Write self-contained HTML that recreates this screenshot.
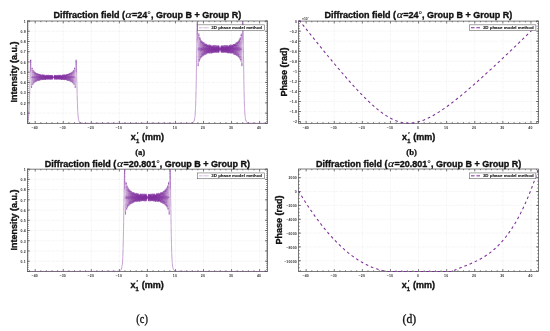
<!DOCTYPE html>
<html lang="en"><head><meta charset="utf-8"><title>Diffraction field figure</title>
<style>html,body{margin:0;padding:0;background:#fff}svg{display:block}</style></head>
<body>
<svg width="550" height="331" viewBox="0 0 550 331">
<rect width="550" height="331" fill="#fff"/>
<path d="M35.2 21V123.35M63.25 21V123.35M91.3 21V123.35M119.35 21V123.35M147.4 21V123.35M175.45 21V123.35M203.5 21V123.35M231.55 21V123.35M259.6 21V123.35M27.4 113.11H267.4M27.4 102.88H267.4M27.4 92.64H267.4M27.4 82.41H267.4M27.4 72.17H267.4M27.4 61.94H267.4M27.4 51.7H267.4M27.4 41.47H267.4M27.4 31.23H267.4" fill="none" stroke="#d6d6d6" stroke-width="0.45" stroke-dasharray="0.5 0.8"/>
<path d="M29.59 123.35v-1.2M29.59 21v1.2M35.2 123.35v-2.4M35.2 21v2.4M40.81 123.35v-1.2M40.81 21v1.2M46.42 123.35v-1.2M46.42 21v1.2M52.03 123.35v-1.2M52.03 21v1.2M57.64 123.35v-1.2M57.64 21v1.2M63.25 123.35v-2.4M63.25 21v2.4M68.86 123.35v-1.2M68.86 21v1.2M74.47 123.35v-1.2M74.47 21v1.2M80.08 123.35v-1.2M80.08 21v1.2M85.69 123.35v-1.2M85.69 21v1.2M91.3 123.35v-2.4M91.3 21v2.4M96.91 123.35v-1.2M96.91 21v1.2M102.52 123.35v-1.2M102.52 21v1.2M108.13 123.35v-1.2M108.13 21v1.2M113.74 123.35v-1.2M113.74 21v1.2M119.35 123.35v-2.4M119.35 21v2.4M124.96 123.35v-1.2M124.96 21v1.2M130.57 123.35v-1.2M130.57 21v1.2M136.18 123.35v-1.2M136.18 21v1.2M141.79 123.35v-1.2M141.79 21v1.2M147.4 123.35v-2.4M147.4 21v2.4M153.01 123.35v-1.2M153.01 21v1.2M158.62 123.35v-1.2M158.62 21v1.2M164.23 123.35v-1.2M164.23 21v1.2M169.84 123.35v-1.2M169.84 21v1.2M175.45 123.35v-2.4M175.45 21v2.4M181.06 123.35v-1.2M181.06 21v1.2M186.67 123.35v-1.2M186.67 21v1.2M192.28 123.35v-1.2M192.28 21v1.2M197.89 123.35v-1.2M197.89 21v1.2M203.5 123.35v-2.4M203.5 21v2.4M209.11 123.35v-1.2M209.11 21v1.2M214.72 123.35v-1.2M214.72 21v1.2M220.33 123.35v-1.2M220.33 21v1.2M225.94 123.35v-1.2M225.94 21v1.2M231.55 123.35v-2.4M231.55 21v2.4M237.16 123.35v-1.2M237.16 21v1.2M242.77 123.35v-1.2M242.77 21v1.2M248.38 123.35v-1.2M248.38 21v1.2M253.99 123.35v-1.2M253.99 21v1.2M259.6 123.35v-2.4M259.6 21v2.4M265.21 123.35v-1.2M265.21 21v1.2M27.4 123.35h1.2M267.4 123.35h-1.2M27.4 121.3h1.2M267.4 121.3h-1.2M27.4 119.26h1.2M267.4 119.26h-1.2M27.4 117.21h1.2M267.4 117.21h-1.2M27.4 115.16h1.2M267.4 115.16h-1.2M27.4 113.11h1.2M267.4 113.11h-1.2M27.4 111.07h1.2M267.4 111.07h-1.2M27.4 109.02h1.2M267.4 109.02h-1.2M27.4 106.97h1.2M267.4 106.97h-1.2M27.4 104.93h1.2M267.4 104.93h-1.2M27.4 102.88h1.2M267.4 102.88h-1.2M27.4 100.83h1.2M267.4 100.83h-1.2M27.4 98.79h1.2M267.4 98.79h-1.2M27.4 96.74h1.2M267.4 96.74h-1.2M27.4 94.69h1.2M267.4 94.69h-1.2M27.4 92.64h1.2M267.4 92.64h-1.2M27.4 90.6h1.2M267.4 90.6h-1.2M27.4 88.55h1.2M267.4 88.55h-1.2M27.4 86.5h1.2M267.4 86.5h-1.2M27.4 84.46h1.2M267.4 84.46h-1.2M27.4 82.41h1.2M267.4 82.41h-1.2M27.4 80.36h1.2M267.4 80.36h-1.2M27.4 78.32h1.2M267.4 78.32h-1.2M27.4 76.27h1.2M267.4 76.27h-1.2M27.4 74.22h1.2M267.4 74.22h-1.2M27.4 72.17h1.2M267.4 72.17h-1.2M27.4 70.13h1.2M267.4 70.13h-1.2M27.4 68.08h1.2M267.4 68.08h-1.2M27.4 66.03h1.2M267.4 66.03h-1.2M27.4 63.99h1.2M267.4 63.99h-1.2M27.4 61.94h1.2M267.4 61.94h-1.2M27.4 59.89h1.2M267.4 59.89h-1.2M27.4 57.85h1.2M267.4 57.85h-1.2M27.4 55.8h1.2M267.4 55.8h-1.2M27.4 53.75h1.2M267.4 53.75h-1.2M27.4 51.7h1.2M267.4 51.7h-1.2M27.4 49.66h1.2M267.4 49.66h-1.2M27.4 47.61h1.2M267.4 47.61h-1.2M27.4 45.56h1.2M267.4 45.56h-1.2M27.4 43.52h1.2M267.4 43.52h-1.2M27.4 41.47h1.2M267.4 41.47h-1.2M27.4 39.42h1.2M267.4 39.42h-1.2M27.4 37.38h1.2M267.4 37.38h-1.2M27.4 35.33h1.2M267.4 35.33h-1.2M27.4 33.28h1.2M267.4 33.28h-1.2M27.4 31.23h1.2M267.4 31.23h-1.2M27.4 29.19h1.2M267.4 29.19h-1.2M27.4 27.14h1.2M267.4 27.14h-1.2M27.4 25.09h1.2M267.4 25.09h-1.2M27.4 23.05h1.2M267.4 23.05h-1.2M27.4 21h1.2M267.4 21h-1.2M27.4 123.35h2.4M267.4 123.35h-2.4M27.4 113.11h2.4M267.4 113.11h-2.4M27.4 102.88h2.4M267.4 102.88h-2.4M27.4 92.64h2.4M267.4 92.64h-2.4M27.4 82.41h2.4M267.4 82.41h-2.4M27.4 72.17h2.4M267.4 72.17h-2.4M27.4 61.94h2.4M267.4 61.94h-2.4M27.4 51.7h2.4M267.4 51.7h-2.4M27.4 41.47h2.4M267.4 41.47h-2.4M27.4 31.23h2.4M267.4 31.23h-2.4M27.4 21h2.4M267.4 21h-2.4" fill="none" stroke="#444" stroke-width="0.7"/>
<rect x="27.4" y="21" width="240" height="102.35" fill="none" stroke="#505050" stroke-width="0.75"/>
<g font-family='"Liberation Sans", Arial, Helvetica, sans-serif' font-size="3.5" font-weight="bold" letter-spacing="0.18" fill="#333">
<g text-anchor="middle">
<text x="34.7" y="128.75">−40</text>
<text x="62.75" y="128.75">−30</text>
<text x="90.8" y="128.75">−20</text>
<text x="118.85" y="128.75">−10</text>
<text x="146.9" y="128.75">0</text>
<text x="174.95" y="128.75">10</text>
<text x="203" y="128.75">20</text>
<text x="231.05" y="128.75">30</text>
<text x="259.1" y="128.75">40</text>
</g><g text-anchor="end">
<text x="25.9" y="114.86">0.1</text>
<text x="25.9" y="104.63">0.2</text>
<text x="25.9" y="94.39">0.3</text>
<text x="25.9" y="84.16">0.4</text>
<text x="25.9" y="73.92">0.5</text>
<text x="25.9" y="63.69">0.6</text>
<text x="25.9" y="53.45">0.7</text>
<text x="25.9" y="43.22">0.8</text>
<text x="25.9" y="32.98">0.9</text>
<text x="25.9" y="22.75">1</text>
</g></g>
<path d="M82.15 123.14 191.3 123.01M248.8 123.01 267.4 123.34" fill="none" stroke="#8230A0" stroke-width="0.5" stroke-dasharray="0.7 0.9"/>
<path d="M27.4 122.01 27.6 121.51 27.8 121.07 28 120.65 28.2 119.6 28.4 118.48 28.6 117.21 28.8 114.71 29 111.87 29.2 108.35 29.4 102.58 29.6 96.42 29.8 88.92 30 79.27 30.2 71.59 30.4 64.04 30.6 59.97 30.65 60.92M76.15 60.92 76.35 62.19 76.55 69.3 76.75 77.92 76.95 85.93 77.15 94.92 77.35 101.38 77.55 106.61 77.75 111.36 77.95 114.13 78.15 116.4 78.35 118.4 78.55 119.37 78.75 120.25 78.95 121.11 79.15 121.42 79.35 121.77 79.55 122.2 79.75 122.29 79.95 122.43 80.15 122.68 80.35 122.71 80.55 122.76 80.75 122.92 80.95 122.93 81.15 122.93 81.35 123.05 81.55 123.06 81.75 123.04 81.95 123.13 82.15 123.14M191.3 123.01 191.5 123 191.7 122.85 191.9 122.88 192.1 122.87 192.3 122.68 192.5 122.67 192.7 122.66 192.9 122.39 193.1 122.31 193.3 122.27 193.5 121.87 193.7 121.65 193.9 121.49 194.1 120.81 194.3 120.25 194.5 119.75 194.7 118.36 194.9 116.93 195.1 115.38 195.3 112.15 195.5 108.5 195.7 104.04 195.9 96.38 196.1 87.96 196.3 77.54 196.5 63.07 196.7 50.16 196.9 36.28 197.1 24.81 197.3 22.77M242.8 22.77 243 24.81 243.2 36.28 243.4 50.16 243.6 63.07 243.8 77.54 244 87.96 244.2 96.38 244.4 104.04 244.6 108.5 244.8 112.15 245 115.38 245.2 116.93 245.4 118.36 245.6 119.75 245.8 120.25 246 120.81 246.2 121.5 246.4 121.65 246.6 121.87 246.8 122.27 247 122.31 247.2 122.39 247.4 122.66 247.6 122.67 247.8 122.68 248 122.87 248.2 122.88 248.4 122.85 248.6 123 248.8 123.01" fill="none" stroke="#8230A0" stroke-width="0.8" stroke-dasharray="0.5 0.4"/>
<path d="M30.65 60.92 30.69 59.63 30.73 61.33 30.76 60.41 30.81 62.58 30.84 62 30.89 64.65 30.91 64.33 30.97 67.45 30.99 67.32 31.05 70.84 31.06 70.8 31.13 74.57 31.13 74.57 31.21 78.36 31.21 78.36 31.29 81.88 31.29 81.86 31.36 84.83 31.38 84.67 31.43 86.94 31.46 86.46 31.51 87.96 31.55 86.96 31.58 87.77 31.63 86.03 31.66 86.37 31.72 83.78 31.73 83.86 31.8 80.53 31.81 80.53 31.88 76.78 31.89 76.79 31.96 73.11 31.97 73.18 32.03 70.04 32.05 70.37 32.11 68.04 32.14 68.9 32.18 67.45 32.23 69.12 32.25 68.43 32.31 71.03 32.33 70.81 32.39 74.27 32.41 74.25 32.55 81.65 32.57 81.57 32.63 84.16 32.66 83.66 32.71 85.08 32.75 83.67 32.78 84.18 32.84 81.55 32.85 81.62 33 74.17 33.02 74.23 33.08 71.13 33.11 71.61 33.15 69.72 33.19 71.12 33.23 70.33 33.28 73 33.3 72.85 33.37 76.57 33.38 76.57 33.45 80.37 33.47 80.32 33.53 83.06 33.56 82.47 33.6 83.73 33.65 81.87 33.67 82.13 33.75 78.79 33.75 78.79 33.83 74.87 33.84 74.92 33.9 71.82 33.93 72.41 33.97 70.82 34.02 72.71 34.05 72.29 34.11 75.7 34.12 75.69 34.2 79.62 34.21 79.59 34.27 82.42 34.31 81.75 34.35 82.84 34.41 80.54 34.42 80.66 34.5 76.86 34.5 76.86 34.57 73.23 34.6 73.55 34.65 71.54 34.69 73.18 34.72 72.68 34.79 76.1 34.79 76.1 34.87 80.02 34.89 79.93 34.95 82.33 34.99 81.17 35.02 81.74 35.09 78.54 35.09 78.54 35.17 74.57 35.19 74.69 35.25 72.17 35.29 73.49 35.32 72.83 35.39 76.17 35.39 76.17 35.47 80.1 35.49 79.96 35.54 82.07 35.59 80.46 35.62 80.76 35.77 73.42 35.8 73.96 35.84 72.5 35.9 75.07 35.92 74.97 35.99 79.03 36.01 79 36.07 81.66 36.11 80.37 36.14 80.81 36.29 73.52 36.32 74.16 36.37 72.93 36.43 75.89 36.44 75.87 36.51 79.89 36.54 79.71 36.59 81.55 36.65 79.29 36.66 79.37 36.74 75.27 36.76 75.37 36.81 72.95 36.87 74.83 36.89 74.58 36.96 78.65 36.97 78.62 37.04 81.29 37.09 79.69 37.11 79.92 37.19 75.87 37.2 75.91 37.26 73.19 37.31 74.93 37.34 74.64 37.41 78.74 37.43 78.7 37.49 81.18 37.54 79.21 37.56 79.33 37.63 75.18 37.66 75.35 37.71 73.31 37.77 75.9 37.79 75.85 37.86 79.92 37.89 79.56 37.93 80.81 38.08 73.84 38.13 74.94 38.16 74.34 38.23 78.37 38.24 78.36 38.31 80.92 38.37 78.7 38.38 78.76 38.46 74.63 38.49 75.11 38.53 73.91 38.68 80.73 38.73 78.98 38.75 79.11 38.83 74.91 38.86 75.3 38.91 73.96 39.05 80.68 39.11 78.64 39.13 78.71 39.21 74.58 39.24 75.26 39.28 74.41 39.35 78.48 39.37 78.44 39.43 80.61 39.58 74 39.63 75.78 39.65 75.61 39.73 79.79 39.77 79.14 39.8 79.8 39.88 75.61 39.9 75.8 39.95 74.14 40.03 77.85 40.03 77.85 40.1 80.49 40.25 74.08 40.31 76.23 40.33 76.16 40.4 80.12 40.45 78.72 40.47 78.89 40.55 74.68 40.59 75.65 40.62 75.17 40.7 79.46 40.73 78.91 40.77 79.58 40.85 75.29 40.88 75.73 40.92 74.74 41 78.99 41.03 78.73 41.07 79.81 41.15 75.59 41.17 75.88 41.22 74.66 41.3 78.89 41.32 78.65 41.37 79.76 41.45 75.49 41.48 75.87 41.52 74.86 41.59 79.17 41.63 78.71 41.67 79.42 41.75 75.07 41.79 75.88 41.82 75.39 41.89 79.69 41.95 78.48 41.97 78.65 42.04 74.55 42.1 76.48 42.12 76.43 42.19 80.11 42.34 74.38 42.42 78 42.43 77.98 42.49 79.85 42.57 75.64 42.6 76.05 42.64 75.22 42.71 79.58 42.77 78.26 42.79 78.36 42.87 74.48 43.01 79.96 43.09 75.93 43.12 76.2 43.17 75.2 43.24 79.58 43.3 78.04 43.31 78.09 43.39 74.5 43.46 77.94 43.48 77.92 43.54 79.59 43.61 75.19 43.66 76.36 43.69 76.19 43.76 79.96 43.84 76.56 43.85 76.61 43.91 75.03 43.99 79.46 44.05 77.89 44.06 77.92 44.13 74.6 44.21 78.55 44.24 78.26 44.29 78.92 44.36 74.7 44.43 77.62 44.44 77.62 44.51 79.49 44.58 75.05 44.65 76.9 44.66 76.89 44.73 79.75 44.81 75.44 44.86 76.53 44.88 76.4 44.96 79.83 45.03 75.72 45.07 76.43 45.11 76.15 45.18 79.84 45.26 75.83 45.3 76.45 45.33 76.12 45.41 79.82 45.48 75.76 45.53 76.51 45.55 76.28 45.63 79.77 45.71 75.52 45.76 76.72 45.78 76.66 45.85 79.63 45.93 75.18 46.08 79.3 46.15 74.86 46.23 78.07 46.25 77.95 46.3 78.65 46.38 74.76 46.45 78.95 46.52 77.61 46.53 77.62 46.6 75.13 46.67 79.61 46.75 76.33 46.79 76.62 46.83 76.14 46.9 79.64 46.97 75.19 47.05 77.69 47.06 77.67 47.12 78.72 47.2 74.83 47.27 79.19 47.35 76.96 47.36 76.98 47.42 75.78 47.5 79.67 47.57 75.26 47.65 77.8 47.67 77.75 47.72 78.45 47.8 74.97 47.87 79.5 47.95 76.15 47.99 76.83 48.02 76.74 48.09 79.15 48.17 74.85 48.25 79.12 48.32 76.72 48.35 76.84 48.39 76.28 48.47 79.35 48.54 74.89 48.62 79.02 48.69 76.74 48.72 76.87 48.77 76.37 48.84 79.23 48.92 74.89 48.99 79.27 49.07 76.23 49.13 77.04 49.14 77.02 49.21 78.68 49.29 75.08 49.37 79.6 49.44 75.39 49.51 78.21 49.58 77.45 49.59 77.45 49.67 76.01 49.74 79.29 49.81 74.92 49.89 79.42 49.96 75.7 50.04 77.93 50.09 77.55 50.11 77.58 50.19 76.03 50.26 79.18 50.34 74.98 50.41 79.55 50.49 75.29 50.56 78.64 50.63 76.63 50.69 77.11 50.71 77.09 50.79 78.2 50.86 75.69 50.93 79.3 51.01 74.99 51.08 79.56 51.16 75.14 51.23 79.04 51.31 75.96 51.38 78.03 51.46 77.07 51.49 77.13 51.53 76.89 51.61 78.16 51.68 75.92 51.76 78.98 51.83 75.27 51.91 79.44 51.98 74.99 52.05 79.56 52.13 75.01 52.21 79.41 52.28 75.26 52.35 79.09 52.43 75.64 52.5 78.68 52.58 76.05 52.65 78.27 52.73 76.45 52.8 77.9 52.88 76.79 52.95 77.6 53.03 77.05 53.1 77.38 53.17 77.23 53.22 77.28 53.25 77.25 53.31 77.32 53.33 77.31 53.34 77.31 53.4 77.2 53.46 77.31 53.47 77.31 53.49 77.32 53.55 77.25 53.58 77.28 53.63 77.23 53.7 77.38 53.77 77.05 53.85 77.6 53.92 76.79 54 77.9 54.07 76.45 54.15 78.27 54.22 76.05 54.3 78.68 54.37 75.64 54.45 79.09 54.52 75.26 54.59 79.41 54.67 75.01 54.75 79.56 54.82 74.99 54.89 79.44 54.97 75.27 55.04 78.97 55.12 75.92 55.19 78.15 55.27 76.89 55.31 77.13 55.34 77.07 55.42 78.03 55.49 75.96 55.57 79.04 55.64 75.14 55.72 79.56 55.79 74.99 55.87 79.3 55.94 75.69 56.01 78.2 56.09 77.09 56.11 77.11 56.17 76.63 56.24 78.64 56.31 75.29 56.39 79.55 56.46 74.98 56.54 79.18 56.61 76.03 56.69 77.58 56.71 77.55 56.76 77.93 56.84 75.7 56.91 79.42 56.99 74.92 57.06 79.29 57.13 76.01 57.21 77.45 57.22 77.45 57.29 78.21 57.36 75.39 57.43 79.6 57.51 75.08 57.59 78.68 57.66 77.02 57.67 77.04 57.73 76.23 57.81 79.27 57.88 74.89 57.96 79.23 58.03 76.37 58.08 76.87 58.11 76.74 58.18 79.02 58.26 74.89 58.33 79.35 58.41 76.28 58.45 76.84 58.48 76.72 58.55 79.12 58.63 74.85 58.71 79.15 58.78 76.74 58.81 76.83 58.85 76.15 58.93 79.5 59 74.97 59.08 78.45 59.13 77.75 59.15 77.8 59.23 75.26 59.3 79.67 59.38 75.78 59.44 76.98 59.45 76.96 59.53 79.19 59.6 74.83 59.68 78.72 59.74 77.67 59.75 77.69 59.83 75.19 59.9 79.64 59.97 76.14 60.01 76.62 60.05 76.33 60.13 79.61 60.2 75.13 60.27 77.62 60.28 77.61 60.35 78.95 60.42 74.76 60.5 78.65 60.55 77.95 60.57 78.07 60.65 74.86 60.72 79.3 60.87 75.18 60.95 79.63 61.02 76.66 61.04 76.72 61.09 75.52 61.17 79.77 61.25 76.28 61.27 76.51 61.32 75.76 61.39 79.82 61.47 76.12 61.5 76.45 61.54 75.83 61.62 79.84 61.69 76.15 61.73 76.43 61.77 75.72 61.84 79.83 61.92 76.4 61.94 76.53 61.99 75.44 62.07 79.75 62.14 76.89 62.15 76.9 62.22 75.05 62.29 79.49 62.36 77.62 62.37 77.62 62.44 74.7 62.51 78.92 62.56 78.26 62.59 78.55 62.67 74.59 62.74 77.92 62.75 77.89 62.81 79.46 62.89 75.03 62.95 76.61 62.96 76.56 63.04 79.96 63.11 76.19 63.14 76.36 63.19 75.19 63.26 79.59 63.32 77.92 63.34 77.94 63.41 74.5 63.49 78.09 63.5 78.04 63.56 79.58 63.63 75.2 63.68 76.2 63.71 75.93 63.79 79.96 63.93 74.48 64.01 78.36 64.03 78.26 64.09 79.58 64.16 75.22 64.2 76.05 64.23 75.64 64.31 79.85 64.37 77.98 64.38 78 64.46 74.38 64.61 80.11 64.68 76.43 64.7 76.48 64.76 74.55 64.83 78.65 64.85 78.48 64.91 79.69 64.98 75.39 65.01 75.88 65.05 75.07 65.13 79.42 65.17 78.71 65.21 79.17 65.28 74.86 65.32 75.87 65.35 75.49 65.43 79.76 65.48 78.65 65.5 78.89 65.58 74.66 65.63 75.88 65.65 75.59 65.73 79.81 65.77 78.73 65.8 78.99 65.88 74.74 65.92 75.73 65.95 75.29 66.03 79.58 66.07 78.91 66.1 79.46 66.18 75.17 66.21 75.65 66.25 74.68 66.33 78.89 66.35 78.72 66.4 80.12 66.47 76.16 66.49 76.23 66.55 74.08 66.7 80.49 66.77 77.85 66.77 77.85 66.85 74.13 66.9 75.8 66.92 75.61 67 79.8 67.03 79.14 67.07 79.79 67.15 75.61 67.17 75.78 67.22 74 67.37 80.61 67.43 78.43 67.45 78.48 67.52 74.41 67.56 75.26 67.59 74.58 67.67 78.71 67.69 78.64 67.75 80.68 67.89 73.96 67.94 75.3 67.97 74.91 68.05 79.11 68.07 78.98 68.12 80.73 68.27 73.91 68.31 75.11 68.34 74.63 68.42 78.76 68.43 78.7 68.49 80.92 68.56 78.36 68.57 78.37 68.64 74.34 68.67 74.94 68.72 73.84 68.87 80.81 68.91 79.56 68.94 79.92 69.01 75.85 69.03 75.9 69.09 73.31 69.14 75.35 69.17 75.18 69.24 79.33 69.26 79.21 69.31 81.18 69.37 78.7 69.39 78.74 69.46 74.64 69.49 74.93 69.54 73.19 69.6 75.91 69.61 75.87 69.69 79.92 69.71 79.69 69.76 81.29 69.83 78.62 69.84 78.65 69.91 74.58 69.93 74.83 69.99 72.95 70.04 75.37 70.06 75.27 70.14 79.37 70.15 79.29 70.21 81.55 70.26 79.71 70.29 79.89 70.36 75.87 70.37 75.89 70.43 72.93 70.48 74.16 70.51 73.52 70.66 80.81 70.69 80.37 70.73 81.66 70.8 79 70.81 79.03 70.88 74.97 70.9 75.07 70.96 72.5 71 73.96 71.03 73.42 71.18 80.76 71.21 80.46 71.26 82.07 71.31 79.96 71.33 80.1 71.41 76.16 71.41 76.17 71.48 72.83 71.51 73.49 71.55 72.17 71.61 74.69 71.63 74.57 71.71 78.54 71.71 78.54 71.78 81.74 71.81 81.17 71.85 82.33 71.91 79.93 71.93 80.02 72.01 76.1 72.01 76.1 72.08 72.68 72.11 73.18 72.15 71.54 72.2 73.55 72.23 73.23 72.3 76.86 72.3 76.86 72.38 80.66 72.39 80.54 72.45 82.84 72.49 81.75 72.53 82.42 72.59 79.59 72.6 79.62 72.68 75.69 72.69 75.7 72.75 72.29 72.78 72.71 72.83 70.82 72.87 72.41 72.9 71.82 72.96 74.92 72.97 74.87 73.05 78.79 73.05 78.79 73.13 82.13 73.15 81.87 73.2 83.73 73.24 82.47 73.27 83.05 73.33 80.32 73.35 80.37 73.42 76.57 73.43 76.57 73.5 72.85 73.52 73 73.57 70.33 73.61 71.12 73.65 69.72 73.69 71.61 73.72 71.13 73.78 74.23 73.8 74.17 73.95 81.62 73.96 81.55 74.02 84.18 74.05 83.67 74.09 85.08 74.14 83.66 74.17 84.16 74.23 81.57 74.25 81.65 74.39 74.25 74.41 74.27 74.47 70.81 74.49 71.03 74.55 68.42 74.57 69.12 74.62 67.45 74.66 68.9 74.69 68.04 74.75 70.37 74.77 70.04 74.83 73.18 74.84 73.11 74.91 76.79 74.92 76.78 74.99 80.53 75 80.53 75.07 83.86 75.08 83.78 75.14 86.37 75.17 86.03 75.22 87.77 75.25 86.96 75.29 87.96 75.34 86.46 75.37 86.94 75.42 84.67 75.44 84.83 75.51 81.85 75.51 81.88 75.59 78.36 75.59 78.36 75.67 74.57 75.67 74.57 75.74 70.8 75.75 70.84 75.81 67.32 75.83 67.45 75.89 64.33 75.91 64.65 75.96 62 75.99 62.58 76.04 60.41 76.07 61.33 76.11 59.63 76.15 60.92M197.3 22.77 197.38 23.43 197.41 21.95 197.46 25.44 197.49 24.51 197.54 28.77 197.56 28.26 197.62 33.29 197.64 33.08 197.7 38.75 197.71 38.69 197.78 44.77 197.78 44.76 197.86 50.87 197.86 50.87 197.94 56.54 197.94 56.5 198.01 61.3 198.03 61.04 198.08 64.68 198.11 63.92 198.16 66.33 198.2 64.72 198.23 66.03 198.28 63.22 198.31 63.77 198.37 59.6 198.38 59.73 198.45 54.36 198.46 54.37 198.53 48.33 198.54 48.33 198.61 42.41 198.62 42.53 198.68 37.47 198.7 37.99 198.76 34.23 198.79 35.63 198.83 33.29 198.88 35.98 198.9 34.86 198.96 39.06 198.98 38.71 199.04 44.27 199.06 44.24 199.2 56.17 199.22 56.04 199.28 60.22 199.31 59.4 199.36 61.69 199.4 59.42 199.43 60.24 199.49 56.01 199.5 56.12 199.65 44.12 199.67 44.22 199.73 39.23 199.76 39.99 199.8 36.94 199.84 39.21 199.88 37.93 199.93 42.24 199.95 41.99 200.02 47.98 200.03 47.98 200.1 54.1 200.12 54.02 200.18 58.43 200.21 57.49 200.25 59.51 200.3 56.52 200.32 56.94 200.4 51.55 200.4 51.56 200.48 45.24 200.49 45.32 200.55 40.34 200.58 41.28 200.62 38.72 200.67 41.77 200.7 41.09 200.76 46.58 200.77 46.56 200.85 52.9 200.86 52.84 200.92 57.41 200.96 56.33 201 58.08 201.06 54.38 201.07 54.57 201.15 48.44 201.15 48.45 201.22 42.6 201.25 43.11 201.3 39.88 201.34 42.52 201.37 41.71 201.44 47.23 201.44 47.22 201.52 53.54 201.54 53.39 201.6 57.27 201.64 55.39 201.67 56.31 201.74 51.16 201.74 51.16 201.82 44.76 201.84 44.96 201.9 40.9 201.94 43.02 201.97 41.95 202.04 47.35 202.04 47.33 202.12 53.66 202.14 53.44 202.19 56.85 202.24 54.25 202.27 54.74 202.42 42.91 202.45 43.77 202.49 41.43 202.55 45.56 202.57 45.41 202.64 51.95 202.66 51.9 202.72 56.18 202.76 54.1 202.79 54.81 202.94 43.07 202.97 44.1 203.02 42.12 203.08 46.89 203.09 46.85 203.16 53.33 203.19 53.03 203.24 56 203.3 52.36 203.31 52.49 203.39 45.88 203.41 46.05 203.46 42.15 203.52 45.18 203.54 44.78 203.61 51.33 203.62 51.29 203.69 55.6 203.74 53 203.76 53.39 203.84 46.86 203.85 46.93 203.91 42.54 203.96 45.34 203.99 44.87 204.06 51.48 204.08 51.42 204.14 55.42 204.19 52.24 204.21 52.43 204.28 45.74 204.31 46.01 204.36 42.73 204.42 46.9 204.44 46.82 204.51 53.37 204.54 52.8 204.58 54.82 204.73 43.59 204.78 45.35 204.81 44.39 204.88 50.89 204.89 50.86 204.96 54.99 205.02 51.42 205.03 51.51 205.11 44.86 205.14 45.64 205.18 43.7 205.33 54.68 205.38 51.86 205.4 52.08 205.48 45.31 205.51 45.93 205.56 43.78 205.7 54.61 205.76 51.32 205.78 51.43 205.86 44.78 205.89 45.88 205.93 44.5 206 51.06 206.02 50.99 206.08 54.48 206.23 43.84 206.28 46.7 206.3 46.44 206.38 53.17 206.42 52.13 206.45 53.19 206.53 46.44 206.55 46.73 206.6 44.06 206.68 50.05 206.68 50.04 206.75 54.3 206.9 43.97 206.96 47.43 206.98 47.33 207.05 53.7 207.1 51.45 207.12 51.73 207.2 44.94 207.24 46.49 207.27 45.73 207.35 52.65 207.38 51.75 207.42 52.84 207.5 45.93 207.53 46.62 207.57 45.03 207.65 51.89 207.68 51.46 207.72 53.2 207.8 46.4 207.82 46.87 207.87 44.91 207.95 51.72 207.97 51.34 208.02 53.12 208.1 46.25 208.13 46.86 208.17 45.22 208.24 52.17 208.28 51.43 208.32 52.57 208.4 45.57 208.44 46.87 208.47 46.08 208.54 53.01 208.6 51.07 208.62 51.34 208.69 44.72 208.75 47.84 208.77 47.76 208.84 53.69 208.99 44.45 209.07 50.29 209.08 50.25 209.14 53.27 209.22 46.48 209.25 47.14 209.29 45.81 209.36 52.83 209.42 50.7 209.44 50.87 209.52 44.62 209.66 53.45 209.74 46.95 209.77 47.39 209.82 45.77 209.89 52.83 209.95 50.35 209.96 50.43 210.04 44.64 210.11 50.2 210.13 50.16 210.19 52.85 210.26 45.76 210.31 47.64 210.34 47.37 210.41 53.45 210.49 47.96 210.5 48.05 210.56 45.5 210.64 52.63 210.7 50.11 210.71 50.15 210.78 44.8 210.86 51.17 210.89 50.71 210.94 51.76 211.01 44.96 211.08 49.68 211.09 49.67 211.16 52.69 211.23 45.54 211.3 48.51 211.31 48.49 211.38 53.11 211.46 46.16 211.51 47.92 211.53 47.71 211.61 53.24 211.68 46.61 211.72 47.76 211.76 47.31 211.83 53.25 211.91 46.79 211.95 47.78 211.98 47.25 212.06 53.22 212.13 46.68 212.18 47.89 212.2 47.52 212.28 53.14 212.36 46.3 212.41 48.23 212.43 48.13 212.5 52.92 212.58 45.75 212.73 52.38 212.8 45.24 212.88 50.4 212.9 50.2 212.95 51.33 213.03 45.07 213.1 51.81 213.17 49.66 213.18 49.67 213.25 45.67 213.32 52.87 213.4 47.6 213.44 48.07 213.48 47.29 213.55 52.93 213.62 45.75 213.7 49.79 213.71 49.76 213.77 51.44 213.85 45.18 213.92 52.2 214 48.61 214.01 48.64 214.07 46.71 214.15 52.97 214.22 45.87 214.3 49.96 214.32 49.88 214.37 51.01 214.45 45.41 214.52 52.7 214.6 47.3 214.64 48.41 214.67 48.25 214.74 52.15 214.82 45.22 214.9 52.09 214.97 48.22 215 48.42 215.04 47.52 215.12 52.46 215.19 45.28 215.27 51.93 215.34 48.26 215.37 48.47 215.42 47.67 215.49 52.26 215.57 45.27 215.64 52.33 215.72 47.44 215.78 48.74 215.79 48.7 215.86 51.39 215.94 45.58 216.02 52.86 216.09 46.08 216.16 50.63 216.23 49.39 216.24 49.4 216.32 47.07 216.39 52.36 216.46 45.33 216.54 52.58 216.61 46.59 216.69 50.18 216.74 49.56 216.76 49.61 216.84 47.12 216.91 52.19 216.99 45.43 217.06 52.78 217.14 45.93 217.21 51.33 217.28 48.08 217.34 48.86 217.36 48.82 217.44 50.61 217.51 46.56 217.58 52.38 217.66 45.43 217.73 52.79 217.81 45.68 217.88 51.96 217.96 46.99 218.03 50.34 218.11 48.79 218.14 48.88 218.18 48.5 218.26 50.54 218.33 46.93 218.41 51.86 218.48 45.89 218.56 52.61 218.63 45.43 218.7 52.8 218.78 45.47 218.86 52.55 218.93 45.88 219 52.04 219.08 46.48 219.15 51.38 219.23 47.15 219.3 50.72 219.38 47.79 219.45 50.12 219.53 48.33 219.6 49.64 219.68 48.76 219.75 49.28 219.82 49.04 219.87 49.12 219.9 49.07 219.96 49.18 219.98 49.18 219.99 49.18 220.05 49 220.11 49.18 220.12 49.18 220.14 49.18 220.2 49.07 220.23 49.12 220.28 49.04 220.35 49.28 220.42 48.76 220.5 49.64 220.57 48.33 220.65 50.12 220.72 47.79 220.8 50.72 220.87 47.15 220.95 51.38 221.02 46.48 221.1 52.04 221.17 45.88 221.24 52.55 221.32 45.47 221.4 52.8 221.47 45.43 221.54 52.61 221.62 45.89 221.69 51.86 221.77 46.93 221.84 50.54 221.92 48.5 221.96 48.88 221.99 48.79 222.07 50.34 222.14 46.99 222.22 51.96 222.29 45.68 222.37 52.79 222.44 45.43 222.52 52.38 222.59 46.56 222.66 50.61 222.74 48.82 222.76 48.86 222.82 48.08 222.89 51.33 222.96 45.93 223.04 52.78 223.11 45.43 223.19 52.19 223.26 47.12 223.34 49.61 223.36 49.56 223.41 50.18 223.49 46.59 223.56 52.58 223.64 45.33 223.71 52.36 223.78 47.07 223.86 49.4 223.87 49.39 223.94 50.63 224.01 46.08 224.08 52.86 224.16 45.58 224.24 51.39 224.31 48.7 224.32 48.74 224.38 47.44 224.46 52.33 224.53 45.27 224.61 52.26 224.68 47.67 224.73 48.47 224.76 48.26 224.83 51.93 224.91 45.28 224.98 52.46 225.06 47.52 225.1 48.42 225.13 48.22 225.2 52.09 225.28 45.22 225.36 52.15 225.43 48.25 225.46 48.41 225.5 47.3 225.58 52.7 225.65 45.41 225.73 51.01 225.78 49.88 225.8 49.96 225.88 45.87 225.95 52.97 226.03 46.71 226.09 48.64 226.1 48.61 226.18 52.2 226.25 45.18 226.33 51.44 226.39 49.76 226.4 49.79 226.48 45.75 226.55 52.93 226.62 47.29 226.66 48.07 226.7 47.6 226.78 52.87 226.85 45.67 226.92 49.67 226.93 49.66 227 51.81 227.07 45.07 227.15 51.33 227.2 50.2 227.22 50.4 227.3 45.24 227.37 52.38 227.52 45.75 227.6 52.92 227.67 48.13 227.69 48.23 227.74 46.3 227.82 53.14 227.9 47.52 227.92 47.89 227.97 46.68 228.04 53.22 228.12 47.25 228.15 47.78 228.19 46.79 228.27 53.25 228.34 47.31 228.38 47.76 228.42 46.61 228.49 53.24 228.57 47.71 228.59 47.92 228.64 46.16 228.72 53.11 228.79 48.49 228.8 48.51 228.87 45.54 228.94 52.69 229.01 49.67 229.02 49.68 229.09 44.96 229.16 51.76 229.21 50.71 229.24 51.17 229.32 44.8 229.39 50.15 229.4 50.11 229.46 52.63 229.54 45.5 229.6 48.05 229.61 47.96 229.69 53.45 229.76 47.37 229.79 47.64 229.84 45.76 229.91 52.85 229.97 50.16 229.99 50.2 230.06 44.64 230.14 50.43 230.15 50.35 230.21 52.83 230.28 45.77 230.33 47.39 230.36 46.95 230.44 53.45 230.58 44.62 230.66 50.87 230.68 50.7 230.74 52.83 230.81 45.81 230.85 47.14 230.88 46.48 230.96 53.27 231.02 50.25 231.03 50.29 231.11 44.45 231.26 53.69 231.33 47.76 231.35 47.84 231.41 44.72 231.48 51.34 231.5 51.07 231.56 53.01 231.63 46.08 231.66 46.87 231.7 45.57 231.78 52.57 231.82 51.43 231.86 52.17 231.93 45.22 231.97 46.86 232 46.25 232.08 53.12 232.13 51.34 232.15 51.72 232.23 44.91 232.28 46.87 232.3 46.4 232.38 53.2 232.42 51.46 232.45 51.89 232.53 45.03 232.57 46.62 232.6 45.93 232.68 52.84 232.72 51.75 232.75 52.65 232.83 45.73 232.86 46.49 232.9 44.94 232.98 51.73 233 51.45 233.05 53.7 233.12 47.33 233.14 47.43 233.2 43.97 233.35 54.3 233.42 50.04 233.42 50.05 233.5 44.06 233.55 46.73 233.57 46.44 233.65 53.19 233.68 52.13 233.72 53.17 233.8 46.44 233.82 46.7 233.87 43.84 234.02 54.49 234.08 50.99 234.1 51.06 234.17 44.5 234.21 45.88 234.24 44.78 234.32 51.43 234.34 51.32 234.4 54.61 234.54 43.78 234.59 45.93 234.62 45.31 234.7 52.08 234.72 51.86 234.77 54.68 234.92 43.7 234.96 45.64 234.99 44.86 235.07 51.51 235.08 51.42 235.14 54.99 235.21 50.86 235.22 50.89 235.29 44.39 235.32 45.35 235.37 43.59 235.52 54.82 235.56 52.8 235.59 53.37 235.66 46.82 235.68 46.9 235.74 42.73 235.79 46.01 235.82 45.74 235.89 52.43 235.91 52.24 235.96 55.42 236.02 51.42 236.04 51.48 236.11 44.87 236.14 45.34 236.19 42.54 236.25 46.93 236.26 46.86 236.34 53.39 236.36 53 236.41 55.6 236.48 51.29 236.49 51.33 236.56 44.78 236.58 45.18 236.64 42.15 236.69 46.05 236.71 45.88 236.79 52.49 236.8 52.36 236.86 56 236.91 53.03 236.94 53.33 237.01 46.85 237.02 46.89 237.08 42.12 237.13 44.1 237.16 43.07 237.31 54.82 237.34 54.1 237.38 56.18 237.44 51.9 237.46 51.95 237.53 45.41 237.55 45.56 237.61 41.43 237.65 43.77 237.68 42.91 237.83 54.74 237.86 54.25 237.91 56.85 237.96 53.44 237.98 53.66 238.06 47.33 238.06 47.35 238.13 41.95 238.16 43.02 238.2 40.9 238.26 44.96 238.28 44.76 238.36 51.16 238.36 51.16 238.43 56.31 238.46 55.39 238.5 57.27 238.56 53.39 238.58 53.54 238.66 47.22 238.66 47.23 238.73 41.71 238.76 42.52 238.8 39.88 238.85 43.11 238.88 42.6 238.95 48.45 238.95 48.44 239.03 54.57 239.04 54.38 239.1 58.08 239.14 56.33 239.18 57.41 239.24 52.84 239.25 52.9 239.33 46.56 239.34 46.58 239.4 41.09 239.43 41.77 239.48 38.72 239.52 41.28 239.55 40.34 239.61 45.32 239.62 45.24 239.7 51.56 239.7 51.55 239.78 56.94 239.8 56.52 239.85 59.51 239.89 57.49 239.92 58.43 239.98 54.02 240 54.1 240.07 47.98 240.08 47.98 240.15 41.99 240.17 42.24 240.22 37.93 240.26 39.21 240.3 36.94 240.34 39.99 240.37 39.23 240.43 44.22 240.45 44.12 240.6 56.13 240.61 56.01 240.67 60.24 240.7 59.42 240.74 61.69 240.79 59.4 240.82 60.22 240.88 56.04 240.9 56.18 241.04 44.24 241.06 44.27 241.12 38.71 241.14 39.06 241.2 34.86 241.22 35.98 241.27 33.29 241.31 35.63 241.34 34.23 241.4 37.99 241.42 37.47 241.48 42.53 241.49 42.41 241.56 48.33 241.57 48.33 241.64 54.37 241.65 54.36 241.72 59.73 241.73 59.6 241.79 63.77 241.82 63.22 241.87 66.03 241.9 64.72 241.94 66.33 241.99 63.92 242.02 64.68 242.07 61.04 242.09 61.3 242.16 56.5 242.16 56.54 242.24 50.87 242.24 50.87 242.32 44.76 242.32 44.77 242.39 38.69 242.4 38.75 242.46 33.08 242.48 33.29 242.54 28.26 242.56 28.77 242.61 24.51 242.64 25.44 242.69 21.95 242.72 23.43 242.8 22.7" fill="none" stroke="#8230A0" stroke-width="0.6" stroke-dasharray="0.4 0.5"/>
<path d="M31.25 77.15 31.55 77.82 31.85 76.8 32.15 78.12 32.45 76.07 32.75 78.22 33.05 76.41 33.35 77.75 33.65 76.64 33.95 78.18 34.25 76.23 34.55 78.48 34.85 76.53 35.15 77.74 35.45 76.62 35.75 78.58 36.05 76.69 36.35 78.13 36.65 75.98 36.95 77.7 37.25 76.31 37.55 78.62 37.85 76.68 38.15 78.23 38.45 76 38.75 77.81 39.05 76.38 39.35 78.43 39.65 76.24 39.95 78.14 40.25 76.7 40.55 78.17 40.85 76.54 41.15 78.15 41.45 76.54 41.75 78.51 42.05 76.14 42.35 77.99 42.65 76.34 42.95 77.95 43.25 76.46 43.55 78.03 43.85 76.25 44.15 78.05 44.45 76.45 44.75 78.39 45.05 76.49 45.35 78.58 45.65 76.73 45.95 78.42 46.25 76.49 46.55 78.1 46.85 76.27 47.15 78.2 47.45 76.49 47.75 77.68 48.05 76.81 48.35 78.39 48.65 76.38 48.95 78.38 49.25 75.94 49.55 78.39 49.85 76.83 50.15 78.05 50.45 76.18 50.75 78.03 51.05 75.63 51.35 78.95 51.65 75.77 51.95 78.33 52.25 75.89 52.55 77.84 52.85 76.65 53.15 77.95 53.45 76.48 53.75 78.01 54.05 76.78 54.35 78.09 54.65 76.46 54.95 78.13 55.25 76.61 55.55 78.29 55.85 76.28 56.15 78.65 56.45 75.96 56.75 78.27 57.05 76.41 57.35 78.48 57.65 76.01 57.95 78.36 58.25 76.11 58.55 78.61 58.85 76.87 59.15 78.55 59.45 76.63 59.75 78.15 60.05 76.11 60.35 78.39 60.65 76.76 60.95 78.33 61.25 76.84 61.55 78.03 61.85 76.1 62.15 78.1 62.45 76.31 62.75 78.4 63.05 76.09 63.35 78.44 63.65 76.9 63.95 78.1 64.25 76.44 64.55 77.73 64.85 76.37 65.15 78.28 65.45 76.08 65.75 78.62 66.05 76.78 66.35 77.91 66.65 76.25 66.95 77.81 67.25 76.68 67.55 78.25 67.85 76.74 68.15 78.46 68.45 76.05 68.75 77.71 69.05 76.38 69.35 78.47 69.65 75.94 69.95 77.95 70.25 76.74 70.55 78.55 70.85 76 71.15 77.88 71.45 76.47 71.75 78.39 72.05 76.06 72.35 77.85 72.65 76.24 72.95 78.48 73.25 76.36 73.55 77.84 73.85 76.87 74.15 77.96 74.45 76.28 74.75 77.59 75.05 77.08 75.35 77.59M197.9 48.92 198.2 49.99 198.5 48.35 198.8 50.48 199.1 47.17 199.4 50.63 199.7 47.72 200 49.89 200.3 48.09 200.6 50.57 200.9 47.43 201.2 51.06 201.5 47.91 201.8 49.88 202.1 48.06 202.4 51.23 202.7 48.18 203 50.49 203.3 47.03 203.6 49.81 203.9 47.56 204.2 51.29 204.5 48.15 204.8 50.65 205.1 47.07 205.4 49.98 205.7 47.68 206 50.97 206.3 47.45 206.6 50.52 206.9 48.19 207.2 50.56 207.5 47.93 207.8 50.53 208.1 47.94 208.4 51.11 208.7 47.29 209 50.27 209.3 47.61 209.6 50.21 209.9 47.8 210.2 50.34 210.5 47.47 210.8 50.36 211.1 47.79 211.4 50.92 211.7 47.86 212 51.22 212.3 48.23 212.6 50.96 212.9 47.85 213.2 50.45 213.5 47.51 213.8 50.61 214.1 47.86 214.4 49.77 214.7 48.37 215 50.91 215.3 47.68 215.6 50.9 215.9 46.96 216.2 50.92 216.5 48.4 216.8 50.37 217.1 47.35 217.4 50.34 217.7 46.47 218 51.82 218.3 46.69 218.6 50.81 218.9 46.88 219.2 50.03 219.5 48.11 219.8 50.21 220.1 47.83 220.4 50.3 220.7 48.32 221 50.43 221.3 47.81 221.6 50.49 221.9 48.04 222.2 50.75 222.5 47.51 222.8 51.34 223.1 47.01 223.4 50.73 223.7 47.72 224 51.06 224.3 47.08 224.6 50.86 224.9 47.24 225.2 51.28 225.5 48.46 225.8 51.17 226.1 48.08 226.4 50.53 226.7 47.25 227 50.92 227.3 48.29 227.6 50.83 227.9 48.41 228.2 50.34 228.5 47.22 228.8 50.46 229.1 47.56 229.4 50.94 229.7 47.21 230 50.99 230.3 48.51 230.6 50.44 230.9 47.78 231.2 49.86 231.5 47.66 231.8 50.74 232.1 47.2 232.4 51.28 232.7 48.32 233 50.14 233.3 47.47 233.6 49.98 233.9 48.16 234.2 50.69 234.5 48.25 234.8 51.02 235.1 47.15 235.4 49.82 235.7 47.67 236 51.05 236.3 46.96 236.6 50.21 236.9 48.25 237.2 51.17 237.5 47.07 237.8 50.09 238.1 47.82 238.4 50.92 238.7 47.17 239 50.04 239.3 47.46 239.6 51.06 239.9 47.64 240.2 50.03 240.5 48.47 240.8 50.22 241.1 47.52 241.4 49.63 241.7 48.8 242 49.63" fill="none" stroke="#8230A0" stroke-width="0.3" stroke-dasharray="0.5 0.3"/>
<path d="M30.65 60.25V71.77M76.15 60.25V71.77M197.3 21.69V40.24M242.8 21.69V40.24" fill="none" stroke="#8230A0" stroke-width="0.55" stroke-dasharray="0.6 0.4"/>
<rect x="197.7" y="24.85" width="66.6" height="5.8" fill="#fff" stroke="#4a4a4a" stroke-width="0.5"/>
<path d="M199.1 27.75H209.1" stroke="#8230A0" stroke-width="0.6" stroke-dasharray="0.6 0.6" fill="none"/>
<text x="211.3" y="29.3" font-family='"Liberation Sans", Arial, Helvetica, sans-serif' font-size="4.4" font-weight="bold" fill="#222" stroke="#222" stroke-width="0.12">3D phase model method</text>
<text x="53.4" y="18.4" font-family='"Liberation Sans", Arial, Helvetica, sans-serif' font-size="9" font-weight="bold" fill="#111" stroke="#111" stroke-width="0.35">Diffraction field (</text>
<text transform="translate(125.5 18.4) scale(1.25 1)" font-family='"Liberation Serif", "Times New Roman", serif' font-style="italic" font-size="9.4" fill="#111" stroke="#111" stroke-width="0.2">α</text>
<text x="132" y="18.4" font-family='"Liberation Sans", Arial, Helvetica, sans-serif' font-size="9" font-weight="bold" fill="#111" stroke="#111" stroke-width="0.35">=24<tspan font-weight="normal" font-size="9" stroke-width="0.1">°</tspan>, Group B + Group R)</text>
<text transform="translate(16.7 72) rotate(-90)" text-anchor="middle" font-family='"Liberation Sans", Arial, Helvetica, sans-serif' font-size="9" font-weight="bold" fill="#111" stroke="#111" stroke-width="0.35">Intensity (a.u.)</text>
<text x="130.8" y="140.4" font-family='"Liberation Sans", Arial, Helvetica, sans-serif' font-size="9" font-weight="bold" fill="#111" stroke="#111" stroke-width="0.35">x<tspan font-size="5.8" dx="0.1" dy="2.8">1</tspan><tspan font-size="7.5" dx="-2.4" dy="-6.0" stroke="none">′</tspan><tspan dx="1.0" dy="3.2"> (mm)</tspan></text>
<text x="140.2" y="154.5" text-anchor="middle" font-family='"Liberation Serif", "Times New Roman", serif' font-size="8.7" font-weight="bold" fill="#111" stroke="#111" stroke-width="0.25">(a)</text>
<path d="M306.15 21.1V123.35M334.25 21.1V123.35M362.35 21.1V123.35M390.45 21.1V123.35M418.55 21.1V123.35M446.65 21.1V123.35M474.75 21.1V123.35M502.85 21.1V123.35M530.95 21.1V123.35M298.6 31.15H538.45M298.6 41.2H538.45M298.6 51.25H538.45M298.6 61.3H538.45M298.6 71.35H538.45M298.6 81.39H538.45M298.6 91.44H538.45M298.6 101.49H538.45M298.6 111.54H538.45M298.6 121.59H538.45" fill="none" stroke="#d6d6d6" stroke-width="0.45" stroke-dasharray="0.5 0.8"/>
<path d="M300.53 123.35v-1.2M300.53 21.1v1.2M306.15 123.35v-2.4M306.15 21.1v2.4M311.77 123.35v-1.2M311.77 21.1v1.2M317.39 123.35v-1.2M317.39 21.1v1.2M323.01 123.35v-1.2M323.01 21.1v1.2M328.63 123.35v-1.2M328.63 21.1v1.2M334.25 123.35v-2.4M334.25 21.1v2.4M339.87 123.35v-1.2M339.87 21.1v1.2M345.49 123.35v-1.2M345.49 21.1v1.2M351.11 123.35v-1.2M351.11 21.1v1.2M356.73 123.35v-1.2M356.73 21.1v1.2M362.35 123.35v-2.4M362.35 21.1v2.4M367.97 123.35v-1.2M367.97 21.1v1.2M373.59 123.35v-1.2M373.59 21.1v1.2M379.21 123.35v-1.2M379.21 21.1v1.2M384.83 123.35v-1.2M384.83 21.1v1.2M390.45 123.35v-2.4M390.45 21.1v2.4M396.07 123.35v-1.2M396.07 21.1v1.2M401.69 123.35v-1.2M401.69 21.1v1.2M407.31 123.35v-1.2M407.31 21.1v1.2M412.93 123.35v-1.2M412.93 21.1v1.2M418.55 123.35v-2.4M418.55 21.1v2.4M424.17 123.35v-1.2M424.17 21.1v1.2M429.79 123.35v-1.2M429.79 21.1v1.2M435.41 123.35v-1.2M435.41 21.1v1.2M441.03 123.35v-1.2M441.03 21.1v1.2M446.65 123.35v-2.4M446.65 21.1v2.4M452.27 123.35v-1.2M452.27 21.1v1.2M457.89 123.35v-1.2M457.89 21.1v1.2M463.51 123.35v-1.2M463.51 21.1v1.2M469.13 123.35v-1.2M469.13 21.1v1.2M474.75 123.35v-2.4M474.75 21.1v2.4M480.37 123.35v-1.2M480.37 21.1v1.2M485.99 123.35v-1.2M485.99 21.1v1.2M491.61 123.35v-1.2M491.61 21.1v1.2M497.23 123.35v-1.2M497.23 21.1v1.2M502.85 123.35v-2.4M502.85 21.1v2.4M508.47 123.35v-1.2M508.47 21.1v1.2M514.09 123.35v-1.2M514.09 21.1v1.2M519.71 123.35v-1.2M519.71 21.1v1.2M525.33 123.35v-1.2M525.33 21.1v1.2M530.95 123.35v-2.4M530.95 21.1v2.4M536.57 123.35v-1.2M536.57 21.1v1.2M298.6 21.1h1.2M538.45 21.1h-1.2M298.6 23.61h1.2M538.45 23.61h-1.2M298.6 26.12h1.2M538.45 26.12h-1.2M298.6 28.64h1.2M538.45 28.64h-1.2M298.6 31.15h1.2M538.45 31.15h-1.2M298.6 33.66h1.2M538.45 33.66h-1.2M298.6 36.17h1.2M538.45 36.17h-1.2M298.6 38.69h1.2M538.45 38.69h-1.2M298.6 41.2h1.2M538.45 41.2h-1.2M298.6 43.71h1.2M538.45 43.71h-1.2M298.6 46.22h1.2M538.45 46.22h-1.2M298.6 48.74h1.2M538.45 48.74h-1.2M298.6 51.25h1.2M538.45 51.25h-1.2M298.6 53.76h1.2M538.45 53.76h-1.2M298.6 56.27h1.2M538.45 56.27h-1.2M298.6 58.78h1.2M538.45 58.78h-1.2M298.6 61.3h1.2M538.45 61.3h-1.2M298.6 63.81h1.2M538.45 63.81h-1.2M298.6 66.32h1.2M538.45 66.32h-1.2M298.6 68.83h1.2M538.45 68.83h-1.2M298.6 71.35h1.2M538.45 71.35h-1.2M298.6 73.86h1.2M538.45 73.86h-1.2M298.6 76.37h1.2M538.45 76.37h-1.2M298.6 78.88h1.2M538.45 78.88h-1.2M298.6 81.39h1.2M538.45 81.39h-1.2M298.6 83.91h1.2M538.45 83.91h-1.2M298.6 86.42h1.2M538.45 86.42h-1.2M298.6 88.93h1.2M538.45 88.93h-1.2M298.6 91.44h1.2M538.45 91.44h-1.2M298.6 93.96h1.2M538.45 93.96h-1.2M298.6 96.47h1.2M538.45 96.47h-1.2M298.6 98.98h1.2M538.45 98.98h-1.2M298.6 101.49h1.2M538.45 101.49h-1.2M298.6 104.01h1.2M538.45 104.01h-1.2M298.6 106.52h1.2M538.45 106.52h-1.2M298.6 109.03h1.2M538.45 109.03h-1.2M298.6 111.54h1.2M538.45 111.54h-1.2M298.6 114.05h1.2M538.45 114.05h-1.2M298.6 116.57h1.2M538.45 116.57h-1.2M298.6 119.08h1.2M538.45 119.08h-1.2M298.6 121.59h1.2M538.45 121.59h-1.2M298.6 21.1h2.4M538.45 21.1h-2.4M298.6 31.15h2.4M538.45 31.15h-2.4M298.6 41.2h2.4M538.45 41.2h-2.4M298.6 51.25h2.4M538.45 51.25h-2.4M298.6 61.3h2.4M538.45 61.3h-2.4M298.6 71.35h2.4M538.45 71.35h-2.4M298.6 81.39h2.4M538.45 81.39h-2.4M298.6 91.44h2.4M538.45 91.44h-2.4M298.6 101.49h2.4M538.45 101.49h-2.4M298.6 111.54h2.4M538.45 111.54h-2.4M298.6 121.59h2.4M538.45 121.59h-2.4" fill="none" stroke="#444" stroke-width="0.7"/>
<rect x="298.6" y="21.1" width="239.85" height="102.25" fill="none" stroke="#505050" stroke-width="0.75"/>
<g font-family='"Liberation Sans", Arial, Helvetica, sans-serif' font-size="3.5" font-weight="bold" letter-spacing="0.18" fill="#333">
<g text-anchor="middle">
<text x="305.65" y="128.75">−40</text>
<text x="333.75" y="128.75">−30</text>
<text x="361.85" y="128.75">−20</text>
<text x="389.95" y="128.75">−10</text>
<text x="418.05" y="128.75">0</text>
<text x="446.15" y="128.75">10</text>
<text x="474.25" y="128.75">20</text>
<text x="502.35" y="128.75">30</text>
<text x="530.45" y="128.75">40</text>
</g><g text-anchor="end">
<text x="297.1" y="22.85">0</text>
<text x="297.1" y="32.9">−0.2</text>
<text x="297.1" y="42.95">−0.4</text>
<text x="297.1" y="53">−0.6</text>
<text x="297.1" y="63.05">−0.8</text>
<text x="297.1" y="73.1">−1</text>
<text x="297.1" y="83.14">−1.2</text>
<text x="297.1" y="93.19">−1.4</text>
<text x="297.1" y="103.24">−1.6</text>
<text x="297.1" y="113.29">−1.8</text>
<text x="297.1" y="123.34">−2</text>
</g></g>
<path d="M298.6 21.1 299.81 21.1 301.01 22.5 302.22 24.03 303.42 25.55 304.63 27.08 305.83 28.6 307.04 30.12 308.24 31.64 309.45 33.15 310.65 34.66 311.86 36.17 313.06 37.68 314.27 39.19 315.47 40.69 316.68 42.19 317.88 43.68 319.09 45.18 320.29 46.67 321.5 48.15 322.71 49.63 323.91 51.11 325.12 52.59 326.32 54.06 327.53 55.53 328.73 56.99 329.94 58.45 331.14 59.91 332.35 61.36 333.55 62.8 334.76 64.24 335.96 65.68 337.17 67.1 338.37 68.53 339.58 69.95 340.78 71.36 341.99 72.76 343.2 74.16 344.4 75.55 345.61 76.94 346.81 78.31 348.02 79.68 349.22 81.04 350.43 82.39 351.63 83.73 352.84 85.07 354.04 86.39 355.25 87.7 356.45 89 357.66 90.29 358.86 91.57 360.07 92.84 361.27 94.09 362.48 95.33 363.68 96.55 364.89 97.76 366.1 98.95 367.3 100.13 368.51 101.29 369.71 102.43 370.92 103.55 372.12 104.65 373.33 105.73 374.53 106.79 375.74 107.83 376.94 108.84 378.15 109.82 379.35 110.78 380.56 111.72 381.76 112.62 382.97 113.5 384.17 114.34 385.38 115.15 386.59 115.93 387.79 116.68 389 117.38 390.2 118.06 391.41 118.69 392.61 119.29 393.82 119.84 395.02 120.36 396.23 120.83 397.43 121.26 398.64 121.65 399.84 121.99 401.05 122.29 402.25 122.55 403.46 122.76 404.66 122.93 405.87 123.05 407.07 123.13 408.28 123.16 409.49 123.16 410.69 123.1 411.9 123.01 413.1 122.87 414.31 122.7 415.51 122.48 416.72 122.23 417.92 121.94 419.13 121.61 420.33 121.24 421.54 120.85 422.74 120.41 423.95 119.95 425.15 119.46 426.36 118.94 427.56 118.39 428.77 117.81 429.98 117.2 431.18 116.58 432.39 115.92 433.59 115.25 434.8 114.55 436 113.83 437.21 113.1 438.41 112.34 439.62 111.57 440.82 110.78 442.03 109.97 443.23 109.14 444.44 108.31 445.64 107.45 446.85 106.59 448.05 105.71 449.26 104.82 450.46 103.91 451.67 103 452.88 102.07 454.08 101.14 455.29 100.19 456.49 99.23 457.7 98.27 458.9 97.3 460.11 96.32 461.31 95.33 462.52 94.33 463.72 93.33 464.93 92.31 466.13 91.3 467.34 90.27 468.54 89.24 469.75 88.21 470.95 87.16 472.16 86.12 473.37 85.06 474.57 84.01 475.78 82.94 476.98 81.88 478.19 80.81 479.39 79.73 480.6 78.65 481.8 77.57 483.01 76.48 484.21 75.39 485.42 74.29 486.62 73.2 487.83 72.09 489.03 70.99 490.24 69.88 491.44 68.77 492.65 67.66 493.85 66.54 495.06 65.42 496.27 64.3 497.47 63.18 498.68 62.05 499.88 60.92 501.09 59.79 502.29 58.65 503.5 57.52 504.7 56.38 505.91 55.24 507.11 54.1 508.32 52.96 509.52 51.81 510.73 50.66 511.93 49.51 513.14 48.36 514.34 47.21 515.55 46.06 516.76 44.9 517.96 43.75 519.17 42.59 520.37 41.43 521.58 40.27 522.78 39.1 523.99 37.94 525.19 36.78 526.4 35.61 527.6 34.44 528.81 33.27 530.01 32.1 531.22 30.93 532.42 29.76 533.63 28.59 534.83 27.42 536.04 26.24 537.24 25.06 538.45 23.89" fill="none" stroke="#7A2E96" stroke-width="1.05" stroke-dasharray="2.7 2.9" />
<text x="302" y="19.6" font-family='"Liberation Sans", Arial, Helvetica, sans-serif' font-size="3.3" font-weight="bold" fill="#333">×10<tspan font-size="2.3" dy="-1.2">4</tspan></text>
<rect x="469.6" y="24.85" width="66.3" height="5.8" fill="#fff" stroke="#4a4a4a" stroke-width="0.5"/>
<path d="M471 27.75H481" stroke="#7A2E96" stroke-width="1.0" stroke-dasharray="3.6 1.8" fill="none"/>
<text x="482.9" y="29.3" font-family='"Liberation Sans", Arial, Helvetica, sans-serif' font-size="4.4" font-weight="bold" fill="#222" stroke="#222" stroke-width="0.12">3D phase model method</text>
<text x="324.6" y="18.4" font-family='"Liberation Sans", Arial, Helvetica, sans-serif' font-size="9" font-weight="bold" fill="#111" stroke="#111" stroke-width="0.35">Diffraction field (</text>
<text transform="translate(396.7 18.4) scale(1.25 1)" font-family='"Liberation Serif", "Times New Roman", serif' font-style="italic" font-size="9.4" fill="#111" stroke="#111" stroke-width="0.2">α</text>
<text x="403.2" y="18.4" font-family='"Liberation Sans", Arial, Helvetica, sans-serif' font-size="9" font-weight="bold" fill="#111" stroke="#111" stroke-width="0.35">=24<tspan font-weight="normal" font-size="9" stroke-width="0.1">°</tspan>, Group B + Group R)</text>
<text transform="translate(286.5 72) rotate(-90)" text-anchor="middle" font-family='"Liberation Sans", Arial, Helvetica, sans-serif' font-size="9" font-weight="bold" fill="#111" stroke="#111" stroke-width="0.35">Phase (rad)</text>
<text x="402.1" y="140.4" font-family='"Liberation Sans", Arial, Helvetica, sans-serif' font-size="9" font-weight="bold" fill="#111" stroke="#111" stroke-width="0.35">x<tspan font-size="5.8" dx="0.1" dy="2.8">1</tspan><tspan font-size="7.5" dx="-2.4" dy="-6.0" stroke="none">′</tspan><tspan dx="1.0" dy="3.2"> (mm)</tspan></text>
<text x="411.6" y="154.5" text-anchor="middle" font-family='"Liberation Serif", "Times New Roman", serif' font-size="8.7" font-weight="bold" fill="#111" stroke="#111" stroke-width="0.25">(b)</text>
<path d="M35.2 169.15V271.45M63.25 169.15V271.45M91.3 169.15V271.45M119.35 169.15V271.45M147.4 169.15V271.45M175.45 169.15V271.45M203.5 169.15V271.45M231.55 169.15V271.45M259.6 169.15V271.45M27.4 261.22H267.4M27.4 250.99H267.4M27.4 240.76H267.4M27.4 230.53H267.4M27.4 220.3H267.4M27.4 210.07H267.4M27.4 199.84H267.4M27.4 189.61H267.4M27.4 179.38H267.4" fill="none" stroke="#d6d6d6" stroke-width="0.45" stroke-dasharray="0.5 0.8"/>
<path d="M29.59 271.45v-1.2M29.59 169.15v1.2M35.2 271.45v-2.4M35.2 169.15v2.4M40.81 271.45v-1.2M40.81 169.15v1.2M46.42 271.45v-1.2M46.42 169.15v1.2M52.03 271.45v-1.2M52.03 169.15v1.2M57.64 271.45v-1.2M57.64 169.15v1.2M63.25 271.45v-2.4M63.25 169.15v2.4M68.86 271.45v-1.2M68.86 169.15v1.2M74.47 271.45v-1.2M74.47 169.15v1.2M80.08 271.45v-1.2M80.08 169.15v1.2M85.69 271.45v-1.2M85.69 169.15v1.2M91.3 271.45v-2.4M91.3 169.15v2.4M96.91 271.45v-1.2M96.91 169.15v1.2M102.52 271.45v-1.2M102.52 169.15v1.2M108.13 271.45v-1.2M108.13 169.15v1.2M113.74 271.45v-1.2M113.74 169.15v1.2M119.35 271.45v-2.4M119.35 169.15v2.4M124.96 271.45v-1.2M124.96 169.15v1.2M130.57 271.45v-1.2M130.57 169.15v1.2M136.18 271.45v-1.2M136.18 169.15v1.2M141.79 271.45v-1.2M141.79 169.15v1.2M147.4 271.45v-2.4M147.4 169.15v2.4M153.01 271.45v-1.2M153.01 169.15v1.2M158.62 271.45v-1.2M158.62 169.15v1.2M164.23 271.45v-1.2M164.23 169.15v1.2M169.84 271.45v-1.2M169.84 169.15v1.2M175.45 271.45v-2.4M175.45 169.15v2.4M181.06 271.45v-1.2M181.06 169.15v1.2M186.67 271.45v-1.2M186.67 169.15v1.2M192.28 271.45v-1.2M192.28 169.15v1.2M197.89 271.45v-1.2M197.89 169.15v1.2M203.5 271.45v-2.4M203.5 169.15v2.4M209.11 271.45v-1.2M209.11 169.15v1.2M214.72 271.45v-1.2M214.72 169.15v1.2M220.33 271.45v-1.2M220.33 169.15v1.2M225.94 271.45v-1.2M225.94 169.15v1.2M231.55 271.45v-2.4M231.55 169.15v2.4M237.16 271.45v-1.2M237.16 169.15v1.2M242.77 271.45v-1.2M242.77 169.15v1.2M248.38 271.45v-1.2M248.38 169.15v1.2M253.99 271.45v-1.2M253.99 169.15v1.2M259.6 271.45v-2.4M259.6 169.15v2.4M265.21 271.45v-1.2M265.21 169.15v1.2M27.4 271.45h1.2M267.4 271.45h-1.2M27.4 269.4h1.2M267.4 269.4h-1.2M27.4 267.36h1.2M267.4 267.36h-1.2M27.4 265.31h1.2M267.4 265.31h-1.2M27.4 263.27h1.2M267.4 263.27h-1.2M27.4 261.22h1.2M267.4 261.22h-1.2M27.4 259.17h1.2M267.4 259.17h-1.2M27.4 257.13h1.2M267.4 257.13h-1.2M27.4 255.08h1.2M267.4 255.08h-1.2M27.4 253.04h1.2M267.4 253.04h-1.2M27.4 250.99h1.2M267.4 250.99h-1.2M27.4 248.94h1.2M267.4 248.94h-1.2M27.4 246.9h1.2M267.4 246.9h-1.2M27.4 244.85h1.2M267.4 244.85h-1.2M27.4 242.81h1.2M267.4 242.81h-1.2M27.4 240.76h1.2M267.4 240.76h-1.2M27.4 238.71h1.2M267.4 238.71h-1.2M27.4 236.67h1.2M267.4 236.67h-1.2M27.4 234.62h1.2M267.4 234.62h-1.2M27.4 232.58h1.2M267.4 232.58h-1.2M27.4 230.53h1.2M267.4 230.53h-1.2M27.4 228.48h1.2M267.4 228.48h-1.2M27.4 226.44h1.2M267.4 226.44h-1.2M27.4 224.39h1.2M267.4 224.39h-1.2M27.4 222.35h1.2M267.4 222.35h-1.2M27.4 220.3h1.2M267.4 220.3h-1.2M27.4 218.25h1.2M267.4 218.25h-1.2M27.4 216.21h1.2M267.4 216.21h-1.2M27.4 214.16h1.2M267.4 214.16h-1.2M27.4 212.12h1.2M267.4 212.12h-1.2M27.4 210.07h1.2M267.4 210.07h-1.2M27.4 208.02h1.2M267.4 208.02h-1.2M27.4 205.98h1.2M267.4 205.98h-1.2M27.4 203.93h1.2M267.4 203.93h-1.2M27.4 201.89h1.2M267.4 201.89h-1.2M27.4 199.84h1.2M267.4 199.84h-1.2M27.4 197.79h1.2M267.4 197.79h-1.2M27.4 195.75h1.2M267.4 195.75h-1.2M27.4 193.7h1.2M267.4 193.7h-1.2M27.4 191.66h1.2M267.4 191.66h-1.2M27.4 189.61h1.2M267.4 189.61h-1.2M27.4 187.56h1.2M267.4 187.56h-1.2M27.4 185.52h1.2M267.4 185.52h-1.2M27.4 183.47h1.2M267.4 183.47h-1.2M27.4 181.43h1.2M267.4 181.43h-1.2M27.4 179.38h1.2M267.4 179.38h-1.2M27.4 177.33h1.2M267.4 177.33h-1.2M27.4 175.29h1.2M267.4 175.29h-1.2M27.4 173.24h1.2M267.4 173.24h-1.2M27.4 171.2h1.2M267.4 171.2h-1.2M27.4 169.15h1.2M267.4 169.15h-1.2M27.4 271.45h2.4M267.4 271.45h-2.4M27.4 261.22h2.4M267.4 261.22h-2.4M27.4 250.99h2.4M267.4 250.99h-2.4M27.4 240.76h2.4M267.4 240.76h-2.4M27.4 230.53h2.4M267.4 230.53h-2.4M27.4 220.3h2.4M267.4 220.3h-2.4M27.4 210.07h2.4M267.4 210.07h-2.4M27.4 199.84h2.4M267.4 199.84h-2.4M27.4 189.61h2.4M267.4 189.61h-2.4M27.4 179.38h2.4M267.4 179.38h-2.4M27.4 169.15h2.4M267.4 169.15h-2.4" fill="none" stroke="#444" stroke-width="0.7"/>
<rect x="27.4" y="169.15" width="240" height="102.3" fill="none" stroke="#505050" stroke-width="0.75"/>
<g font-family='"Liberation Sans", Arial, Helvetica, sans-serif' font-size="3.5" font-weight="bold" letter-spacing="0.18" fill="#333">
<g text-anchor="middle">
<text x="34.7" y="276.85">−40</text>
<text x="62.75" y="276.85">−30</text>
<text x="90.8" y="276.85">−20</text>
<text x="118.85" y="276.85">−10</text>
<text x="146.9" y="276.85">0</text>
<text x="174.95" y="276.85">10</text>
<text x="203" y="276.85">20</text>
<text x="231.05" y="276.85">30</text>
<text x="259.1" y="276.85">40</text>
</g><g text-anchor="end">
<text x="25.9" y="262.97">0.1</text>
<text x="25.9" y="252.74">0.2</text>
<text x="25.9" y="242.51">0.3</text>
<text x="25.9" y="232.28">0.4</text>
<text x="25.9" y="222.05">0.5</text>
<text x="25.9" y="211.82">0.6</text>
<text x="25.9" y="201.59">0.7</text>
<text x="25.9" y="191.36">0.8</text>
<text x="25.9" y="181.13">0.9</text>
<text x="25.9" y="170.9">1</text>
</g></g>
<path d="M27.4 271.45 118.6 271.11M176.1 271.11 267.4 271.45" fill="none" stroke="#8230A0" stroke-width="0.5" stroke-dasharray="0.7 0.9"/>
<path d="M118.6 271.11 118.8 271.1 119 270.95 119.2 270.98 119.4 270.97 119.6 270.78 119.8 270.77 120 270.76 120.2 270.5 120.4 270.42 120.6 270.38 120.8 269.98 121 269.76 121.2 269.6 121.4 268.92 121.6 268.36 121.8 267.86 122 266.48 122.2 265.06 122.4 263.52 122.6 260.31 122.8 256.67 123 252.23 123.2 244.61 123.4 236.22 123.6 225.85 123.8 211.44 124 198.6 124.2 184.78 124.4 173.37 124.6 171.34M170.1 171.34 170.3 173.37 170.5 184.78 170.7 198.6 170.9 211.44 171.1 225.85 171.3 236.22 171.5 244.61 171.7 252.23 171.9 256.67 172.1 260.31 172.3 263.52 172.5 265.06 172.7 266.48 172.9 267.86 173.1 268.36 173.3 268.92 173.5 269.6 173.7 269.76 173.9 269.98 174.1 270.38 174.3 270.42 174.5 270.5 174.7 270.76 174.9 270.77 175.1 270.78 175.3 270.97 175.5 270.98 175.7 270.95 175.9 271.1 176.1 271.11" fill="none" stroke="#8230A0" stroke-width="0.8" stroke-dasharray="0.5 0.4"/>
<path d="M124.6 171.34 124.64 169.26 124.68 171.99 124.71 170.52 124.76 173.99 124.79 173.07 124.84 177.31 124.86 176.8 124.92 181.81 124.94 181.59 125 187.24 125.01 187.19 125.08 193.23 125.08 193.23 125.16 199.31 125.16 199.31 125.24 204.95 125.24 204.91 125.31 209.68 125.33 209.43 125.38 213.05 125.41 212.3 125.46 214.69 125.5 213.09 125.53 214.4 125.58 211.6 125.61 212.14 125.67 207.99 125.68 208.12 125.75 202.78 125.76 202.79 125.83 196.78 125.84 196.78 125.91 190.89 125.92 191 125.98 185.96 126 186.49 126.06 182.75 126.09 184.13 126.13 181.81 126.18 184.49 126.2 183.37 126.26 187.55 126.28 187.2 126.34 192.74 126.36 192.71 126.5 204.59 126.52 204.45 126.58 208.61 126.61 207.8 126.66 210.07 126.7 207.82 126.73 208.63 126.79 204.42 126.8 204.54 126.95 192.59 126.97 192.68 127.03 187.72 127.06 188.48 127.1 185.44 127.14 187.7 127.18 186.43 127.23 190.71 127.25 190.47 127.32 196.43 127.33 196.43 127.4 202.52 127.42 202.44 127.48 206.83 127.51 205.89 127.55 207.91 127.6 204.93 127.62 205.35 127.7 199.99 127.7 199.99 127.78 193.71 127.79 193.78 127.85 188.82 127.88 189.76 127.92 187.21 127.97 190.24 128 189.58 128.06 195.04 128.07 195.02 128.15 201.33 128.16 201.27 128.22 205.82 128.26 204.74 128.3 206.48 128.36 202.8 128.37 202.99 128.45 196.89 128.45 196.89 128.52 191.07 128.55 191.58 128.6 188.36 128.64 190.99 128.67 190.19 128.74 195.68 128.74 195.67 128.82 201.96 128.84 201.82 128.9 205.67 128.94 203.8 128.97 204.72 129.04 199.59 129.04 199.6 129.12 193.22 129.14 193.42 129.2 189.38 129.24 191.49 129.27 190.43 129.34 195.8 129.34 195.78 129.42 202.09 129.44 201.87 129.49 205.26 129.54 202.67 129.57 203.16 129.72 191.38 129.75 192.24 129.79 189.91 129.85 194.02 129.87 193.87 129.94 200.38 129.96 200.33 130.02 204.59 130.06 202.52 130.09 203.23 130.24 191.54 130.27 192.57 130.32 190.59 130.38 195.35 130.39 195.31 130.46 201.76 130.49 201.46 130.54 204.42 130.6 200.79 130.61 200.92 130.69 194.34 130.71 194.51 130.76 190.63 130.82 193.64 130.84 193.24 130.91 199.77 130.92 199.73 130.99 204.01 131.04 201.43 131.06 201.81 131.14 195.31 131.15 195.38 131.21 191.01 131.26 193.8 131.29 193.34 131.36 199.91 131.38 199.85 131.44 203.83 131.49 200.66 131.51 200.86 131.58 194.2 131.61 194.47 131.66 191.2 131.72 195.36 131.74 195.27 131.81 201.8 131.84 201.22 131.88 203.24 132.03 192.06 132.08 193.81 132.11 192.86 132.18 199.33 132.19 199.3 132.26 203.41 132.32 199.85 132.33 199.94 132.41 193.32 132.44 194.09 132.48 192.17 132.63 203.1 132.68 200.29 132.7 200.51 132.78 193.77 132.81 194.39 132.86 192.25 133 203.03 133.06 199.76 133.08 199.87 133.16 193.24 133.19 194.33 133.23 192.97 133.3 199.49 133.32 199.42 133.38 202.9 133.53 192.31 133.58 195.16 133.6 194.89 133.68 201.6 133.72 200.55 133.75 201.62 133.83 194.89 133.85 195.19 133.9 192.53 133.98 198.49 133.98 198.48 134.05 202.72 134.2 192.44 134.26 195.88 134.28 195.78 134.35 202.12 134.4 199.88 134.42 200.16 134.5 193.4 134.54 194.95 134.57 194.18 134.65 201.07 134.68 200.18 134.72 201.26 134.8 194.38 134.83 195.08 134.87 193.49 134.95 200.32 134.98 199.89 135.02 201.63 135.1 194.86 135.12 195.33 135.17 193.37 135.25 200.15 135.27 199.77 135.32 201.55 135.4 194.71 135.43 195.31 135.47 193.69 135.54 200.6 135.58 199.87 135.62 201 135.7 194.03 135.74 195.33 135.77 194.54 135.84 201.44 135.9 199.5 135.92 199.77 135.99 193.19 136.05 196.29 136.07 196.21 136.14 202.12 136.29 192.92 136.37 198.73 136.38 198.69 136.44 201.7 136.52 194.94 136.55 195.6 136.59 194.26 136.66 201.26 136.72 199.14 136.74 199.3 136.82 193.08 136.96 201.87 137.04 195.41 137.07 195.84 137.12 194.23 137.19 201.26 137.25 198.79 137.26 198.87 137.34 193.11 137.41 198.64 137.43 198.59 137.49 201.27 137.56 194.22 137.61 196.09 137.64 195.83 137.71 201.87 137.79 196.41 137.8 196.5 137.86 193.96 137.94 201.06 138 198.55 138.01 198.59 138.08 193.27 138.16 199.6 138.19 199.14 138.24 200.19 138.31 193.43 138.38 198.12 138.39 198.11 138.46 201.12 138.53 194 138.6 196.96 138.61 196.94 138.68 201.54 138.76 194.62 138.81 196.37 138.83 196.16 138.91 201.67 138.98 195.07 139.02 196.21 139.06 195.76 139.13 201.67 139.21 195.25 139.25 196.23 139.28 195.71 139.36 201.64 139.43 195.13 139.48 196.34 139.5 195.97 139.58 201.57 139.66 194.75 139.71 196.68 139.73 196.58 139.8 201.35 139.88 194.21 140.03 200.81 140.1 193.7 140.18 198.84 140.2 198.64 140.25 199.77 140.33 193.54 140.4 200.24 140.47 198.1 140.48 198.12 140.55 194.13 140.62 201.3 140.7 196.05 140.74 196.52 140.78 195.75 140.85 201.35 140.92 194.21 141 198.23 141.01 198.2 141.07 199.87 141.15 193.64 141.22 200.63 141.3 197.06 141.31 197.09 141.37 195.17 141.45 201.4 141.52 194.33 141.6 198.4 141.62 198.32 141.67 199.44 141.75 193.87 141.82 201.13 141.9 195.75 141.94 196.86 141.97 196.7 142.04 200.58 142.12 193.68 142.2 200.52 142.27 196.67 142.3 196.87 142.34 195.97 142.42 200.88 142.49 193.74 142.57 200.36 142.64 196.71 142.67 196.91 142.72 196.12 142.79 200.69 142.87 193.73 142.94 200.76 143.02 195.89 143.08 197.19 143.09 197.15 143.16 199.82 143.24 194.04 143.32 201.29 143.39 194.54 143.46 199.07 143.53 197.84 143.54 197.84 143.62 195.53 143.69 200.79 143.76 193.79 143.84 201 143.91 195.04 143.99 198.62 144.04 198.01 144.06 198.05 144.14 195.57 144.21 200.62 144.29 193.89 144.36 201.21 144.44 194.39 144.51 199.76 144.58 196.53 144.64 197.3 144.66 197.26 144.74 199.05 144.81 195.02 144.88 200.81 144.96 193.89 145.03 201.22 145.11 194.14 145.18 200.39 145.26 195.45 145.33 198.77 145.41 197.23 145.44 197.33 145.48 196.95 145.56 198.97 145.63 195.38 145.71 200.29 145.78 194.35 145.86 201.04 145.93 193.89 146 201.23 146.08 193.93 146.16 200.98 146.23 194.34 146.3 200.47 146.38 194.94 146.45 199.82 146.53 195.6 146.6 199.16 146.68 196.24 146.75 198.56 146.83 196.78 146.9 198.08 146.98 197.2 147.05 197.73 147.12 197.48 147.17 197.56 147.2 197.51 147.26 197.63 147.28 197.63 147.28 197.63 147.35 197.44 147.42 197.63 147.42 197.63 147.44 197.63 147.5 197.51 147.53 197.56 147.58 197.48 147.65 197.73 147.72 197.2 147.8 198.08 147.87 196.78 147.95 198.56 148.02 196.24 148.1 199.16 148.17 195.6 148.25 199.82 148.32 194.94 148.4 200.47 148.47 194.34 148.54 200.98 148.62 193.93 148.7 201.23 148.77 193.89 148.84 201.04 148.92 194.35 148.99 200.29 149.07 195.38 149.14 198.97 149.22 196.95 149.26 197.33 149.29 197.23 149.37 198.77 149.44 195.45 149.52 200.39 149.59 194.14 149.67 201.22 149.74 193.89 149.82 200.81 149.89 195.02 149.96 199.05 150.04 197.26 150.06 197.3 150.12 196.53 150.19 199.76 150.26 194.39 150.34 201.21 150.41 193.89 150.49 200.62 150.56 195.57 150.64 198.05 150.66 198.01 150.71 198.62 150.79 195.04 150.86 201 150.94 193.79 151.01 200.79 151.08 195.53 151.16 197.84 151.17 197.84 151.24 199.07 151.31 194.54 151.38 201.29 151.46 194.04 151.54 199.82 151.61 197.15 151.62 197.19 151.68 195.89 151.76 200.76 151.83 193.73 151.91 200.69 151.98 196.12 152.03 196.91 152.06 196.71 152.13 200.36 152.21 193.74 152.28 200.88 152.36 195.97 152.4 196.87 152.43 196.67 152.5 200.52 152.58 193.68 152.66 200.58 152.73 196.7 152.76 196.86 152.8 195.75 152.88 201.13 152.95 193.87 153.03 199.44 153.08 198.32 153.1 198.4 153.18 194.33 153.25 201.4 153.33 195.17 153.39 197.09 153.4 197.06 153.48 200.63 153.55 193.64 153.63 199.87 153.69 198.2 153.7 198.23 153.78 194.21 153.85 201.35 153.92 195.75 153.96 196.52 154 196.05 154.08 201.3 154.15 194.13 154.22 198.12 154.23 198.1 154.3 200.24 154.37 193.54 154.45 199.77 154.5 198.64 154.52 198.84 154.6 193.7 154.67 200.81 154.82 194.21 154.9 201.35 154.97 196.58 154.99 196.68 155.04 194.75 155.12 201.57 155.2 195.97 155.22 196.34 155.27 195.13 155.34 201.64 155.42 195.71 155.45 196.23 155.49 195.25 155.57 201.67 155.64 195.76 155.68 196.21 155.72 195.07 155.79 201.67 155.87 196.16 155.89 196.37 155.94 194.62 156.02 201.54 156.09 196.94 156.1 196.96 156.17 194 156.24 201.12 156.31 198.11 156.32 198.12 156.39 193.43 156.46 200.19 156.51 199.14 156.54 199.6 156.62 193.27 156.69 198.59 156.7 198.55 156.76 201.06 156.84 193.96 156.9 196.5 156.91 196.41 156.99 201.87 157.06 195.83 157.09 196.09 157.14 194.22 157.21 201.27 157.27 198.59 157.29 198.64 157.36 193.11 157.44 198.87 157.45 198.79 157.51 201.26 157.58 194.23 157.63 195.84 157.66 195.41 157.74 201.87 157.88 193.08 157.96 199.3 157.98 199.14 158.04 201.26 158.11 194.26 158.15 195.6 158.18 194.94 158.26 201.7 158.32 198.69 158.33 198.73 158.41 192.92 158.56 202.12 158.63 196.21 158.65 196.29 158.71 193.19 158.78 199.77 158.8 199.5 158.86 201.44 158.93 194.54 158.96 195.33 159 194.03 159.08 201 159.12 199.87 159.16 200.6 159.23 193.69 159.27 195.31 159.3 194.71 159.38 201.55 159.43 199.77 159.45 200.15 159.53 193.37 159.58 195.33 159.6 194.86 159.68 201.63 159.72 199.89 159.75 200.32 159.83 193.49 159.87 195.08 159.9 194.38 159.98 201.26 160.02 200.18 160.05 201.07 160.13 194.18 160.16 194.95 160.2 193.4 160.28 200.16 160.3 199.88 160.35 202.12 160.42 195.78 160.44 195.88 160.5 192.44 160.65 202.72 160.72 198.48 160.72 198.49 160.8 192.53 160.85 195.19 160.87 194.89 160.95 201.62 160.98 200.55 161.02 201.6 161.1 194.89 161.12 195.16 161.17 192.31 161.32 202.9 161.38 199.42 161.4 199.49 161.47 192.97 161.51 194.33 161.54 193.24 161.62 199.87 161.64 199.76 161.7 203.03 161.84 192.25 161.89 194.39 161.92 193.77 162 200.51 162.02 200.29 162.07 203.1 162.22 192.17 162.26 194.09 162.29 193.32 162.37 199.94 162.38 199.85 162.44 203.41 162.51 199.3 162.52 199.33 162.59 192.86 162.62 193.81 162.67 192.06 162.82 203.24 162.86 201.22 162.89 201.8 162.96 195.27 162.98 195.36 163.04 191.2 163.09 194.47 163.12 194.2 163.19 200.86 163.21 200.66 163.26 203.83 163.32 199.85 163.34 199.91 163.41 193.34 163.44 193.8 163.49 191.01 163.55 195.38 163.56 195.31 163.64 201.81 163.66 201.43 163.71 204.01 163.78 199.73 163.79 199.77 163.86 193.24 163.88 193.64 163.94 190.63 163.99 194.51 164.01 194.34 164.09 200.92 164.1 200.79 164.16 204.42 164.21 201.46 164.24 201.76 164.31 195.31 164.32 195.35 164.38 190.59 164.43 192.57 164.46 191.54 164.61 203.23 164.64 202.52 164.68 204.59 164.74 200.33 164.76 200.38 164.83 193.87 164.85 194.02 164.91 189.91 164.95 192.24 164.98 191.38 165.13 203.16 165.16 202.67 165.21 205.26 165.26 201.87 165.28 202.09 165.36 195.78 165.36 195.8 165.43 190.43 165.46 191.49 165.5 189.38 165.56 193.42 165.58 193.22 165.66 199.6 165.66 199.59 165.73 204.72 165.76 203.8 165.8 205.67 165.86 201.82 165.88 201.96 165.96 195.67 165.96 195.68 166.03 190.19 166.06 190.99 166.1 188.36 166.15 191.58 166.18 191.07 166.25 196.89 166.25 196.89 166.33 202.99 166.34 202.8 166.4 206.48 166.44 204.74 166.48 205.82 166.54 201.27 166.55 201.33 166.63 195.02 166.64 195.04 166.7 189.58 166.73 190.24 166.78 187.21 166.82 189.76 166.85 188.82 166.91 193.78 166.92 193.71 167 199.99 167 199.99 167.08 205.35 167.1 204.93 167.15 207.91 167.19 205.89 167.22 206.83 167.28 202.44 167.3 202.52 167.37 196.43 167.38 196.43 167.45 190.47 167.47 190.71 167.52 186.43 167.56 187.7 167.6 185.44 167.64 188.48 167.67 187.72 167.73 192.68 167.75 192.59 167.9 204.54 167.91 204.42 167.97 208.63 168 207.82 168.04 210.07 168.09 207.8 168.12 208.61 168.18 204.45 168.2 204.59 168.34 192.71 168.36 192.74 168.42 187.2 168.44 187.55 168.5 183.37 168.52 184.49 168.57 181.81 168.61 184.13 168.64 182.75 168.7 186.49 168.72 185.96 168.78 191 168.79 190.89 168.86 196.78 168.87 196.78 168.94 202.79 168.95 202.78 169.02 208.12 169.03 207.99 169.09 212.14 169.12 211.6 169.17 214.4 169.2 213.09 169.24 214.69 169.29 212.3 169.32 213.05 169.37 209.43 169.39 209.68 169.46 204.91 169.46 204.95 169.54 199.31 169.54 199.31 169.62 193.23 169.62 193.23 169.69 187.19 169.7 187.24 169.76 181.59 169.78 181.81 169.84 176.8 169.86 177.31 169.91 173.07 169.94 173.99 169.99 170.52 170.02 171.99 170.06 169.26 170.1 171.27" fill="none" stroke="#8230A0" stroke-width="0.6" stroke-dasharray="0.4 0.5"/>
<path d="M125.2 197.37 125.5 198.43 125.8 196.8 126.1 198.92 126.4 195.63 126.7 199.07 127 196.17 127.3 198.32 127.6 196.54 127.9 199.01 128.2 195.89 128.5 199.49 128.8 196.36 129.1 198.32 129.4 196.51 129.7 199.66 130 196.63 130.3 198.93 130.6 195.48 130.9 198.25 131.2 196.01 131.5 199.73 131.8 196.6 132.1 199.08 132.4 195.52 132.7 198.42 133 196.13 133.3 199.41 133.6 195.9 133.9 198.96 134.2 196.64 134.5 198.99 134.8 196.37 135.1 198.97 135.4 196.39 135.7 199.55 136 195.74 136.3 198.71 136.6 196.06 136.9 198.65 137.2 196.25 137.5 198.77 137.8 195.92 138.1 198.8 138.4 196.24 138.7 199.36 139 196.31 139.3 199.66 139.6 196.68 139.9 199.39 140.2 196.3 140.5 198.89 140.8 195.96 141.1 199.04 141.4 196.31 141.7 198.21 142 196.82 142.3 199.34 142.6 196.13 142.9 199.33 143.2 195.41 143.5 199.35 143.8 196.84 144.1 198.81 144.4 195.8 144.7 198.78 145 194.93 145.3 200.25 145.6 195.14 145.9 199.25 146.2 195.33 146.5 198.47 146.8 196.56 147.1 198.65 147.4 196.28 147.7 198.74 148 196.77 148.3 198.87 148.6 196.26 148.9 198.93 149.2 196.49 149.5 199.19 149.8 195.96 150.1 199.77 150.4 195.46 150.7 199.16 151 196.17 151.3 199.5 151.6 195.53 151.9 199.29 152.2 195.69 152.5 199.71 152.8 196.9 153.1 199.61 153.4 196.53 153.7 198.97 154 195.7 154.3 199.35 154.6 196.73 154.9 199.26 155.2 196.86 155.5 198.78 155.8 195.67 156.1 198.89 156.4 196.01 156.7 199.37 157 195.66 157.3 199.42 157.6 196.96 157.9 198.88 158.2 196.23 158.5 198.3 158.8 196.11 159.1 199.18 159.4 195.65 159.7 199.71 160 196.76 160.3 198.58 160.6 195.92 160.9 198.42 161.2 196.61 161.5 199.13 161.8 196.7 162.1 199.46 162.4 195.6 162.7 198.26 163 196.12 163.3 199.48 163.6 195.41 163.9 198.65 164.2 196.7 164.5 199.61 164.8 195.52 165.1 198.52 165.4 196.26 165.7 199.36 166 195.62 166.3 198.48 166.6 195.91 166.9 199.5 167.2 196.09 167.5 198.47 167.8 196.91 168.1 198.66 168.4 195.97 168.7 198.07 169 197.24 169.3 198.07" fill="none" stroke="#8230A0" stroke-width="0.3" stroke-dasharray="0.5 0.3"/>
<path d="M124.6 170.26V188.73M170.1 170.26V188.73" fill="none" stroke="#8230A0" stroke-width="0.55" stroke-dasharray="0.6 0.4"/>
<rect x="197.7" y="172.95" width="66.6" height="5.8" fill="#fff" stroke="#4a4a4a" stroke-width="0.5"/>
<path d="M199.1 175.85H209.1" stroke="#8230A0" stroke-width="0.6" stroke-dasharray="0.6 0.6" fill="none"/>
<text x="211.3" y="177.4" font-family='"Liberation Sans", Arial, Helvetica, sans-serif' font-size="4.4" font-weight="bold" fill="#222" stroke="#222" stroke-width="0.12">3D phase model method</text>
<text x="44.8" y="166.5" font-family='"Liberation Sans", Arial, Helvetica, sans-serif' font-size="9" font-weight="bold" fill="#111" stroke="#111" stroke-width="0.35">Diffraction field (</text>
<text transform="translate(116.9 166.5) scale(1.25 1)" font-family='"Liberation Serif", "Times New Roman", serif' font-style="italic" font-size="9.4" fill="#111" stroke="#111" stroke-width="0.2">α</text>
<text x="123.4" y="166.5" font-family='"Liberation Sans", Arial, Helvetica, sans-serif' font-size="9" font-weight="bold" fill="#111" stroke="#111" stroke-width="0.35">=20.801<tspan font-weight="normal" font-size="9" stroke-width="0.1">°</tspan>, Group B + Group R)</text>
<text transform="translate(16.6 220) rotate(-90)" text-anchor="middle" font-family='"Liberation Sans", Arial, Helvetica, sans-serif' font-size="9" font-weight="bold" fill="#111" stroke="#111" stroke-width="0.35">Intensity (a.u.)</text>
<text x="130.4" y="287.8" font-family='"Liberation Sans", Arial, Helvetica, sans-serif' font-size="9" font-weight="bold" fill="#111" stroke="#111" stroke-width="0.35">x<tspan font-size="5.8" dx="0.1" dy="2.8">1</tspan><tspan font-size="7.5" dx="-2.4" dy="-6.0" stroke="none">′</tspan><tspan dx="1.0" dy="3.2"> (mm)</tspan></text>
<text transform="translate(142.1 322.9) scale(0.94 1.1)" text-anchor="middle" font-family='"Liberation Serif", "Times New Roman", serif' font-size="11" fill="#111" stroke="#111" stroke-width="0.3">(c)</text>
<path d="M306.15 169V271.45M334.25 169V271.45M362.35 169V271.45M390.45 169V271.45M418.55 169V271.45M446.65 169V271.45M474.75 169V271.45M502.85 169V271.45M530.95 169V271.45M298.5 177.72H538.5M298.5 191.56H538.5M298.5 205.4H538.5M298.5 219.25H538.5M298.5 233.09H538.5M298.5 246.93H538.5M298.5 260.77H538.5" fill="none" stroke="#d6d6d6" stroke-width="0.45" stroke-dasharray="0.5 0.8"/>
<path d="M300.53 271.45v-1.2M300.53 169v1.2M306.15 271.45v-2.4M306.15 169v2.4M311.77 271.45v-1.2M311.77 169v1.2M317.39 271.45v-1.2M317.39 169v1.2M323.01 271.45v-1.2M323.01 169v1.2M328.63 271.45v-1.2M328.63 169v1.2M334.25 271.45v-2.4M334.25 169v2.4M339.87 271.45v-1.2M339.87 169v1.2M345.49 271.45v-1.2M345.49 169v1.2M351.11 271.45v-1.2M351.11 169v1.2M356.73 271.45v-1.2M356.73 169v1.2M362.35 271.45v-2.4M362.35 169v2.4M367.97 271.45v-1.2M367.97 169v1.2M373.59 271.45v-1.2M373.59 169v1.2M379.21 271.45v-1.2M379.21 169v1.2M384.83 271.45v-1.2M384.83 169v1.2M390.45 271.45v-2.4M390.45 169v2.4M396.07 271.45v-1.2M396.07 169v1.2M401.69 271.45v-1.2M401.69 169v1.2M407.31 271.45v-1.2M407.31 169v1.2M412.93 271.45v-1.2M412.93 169v1.2M418.55 271.45v-2.4M418.55 169v2.4M424.17 271.45v-1.2M424.17 169v1.2M429.79 271.45v-1.2M429.79 169v1.2M435.41 271.45v-1.2M435.41 169v1.2M441.03 271.45v-1.2M441.03 169v1.2M446.65 271.45v-2.4M446.65 169v2.4M452.27 271.45v-1.2M452.27 169v1.2M457.89 271.45v-1.2M457.89 169v1.2M463.51 271.45v-1.2M463.51 169v1.2M469.13 271.45v-1.2M469.13 169v1.2M474.75 271.45v-2.4M474.75 169v2.4M480.37 271.45v-1.2M480.37 169v1.2M485.99 271.45v-1.2M485.99 169v1.2M491.61 271.45v-1.2M491.61 169v1.2M497.23 271.45v-1.2M497.23 169v1.2M502.85 271.45v-2.4M502.85 169v2.4M508.47 271.45v-1.2M508.47 169v1.2M514.09 271.45v-1.2M514.09 169v1.2M519.71 271.45v-1.2M519.71 169v1.2M525.33 271.45v-1.2M525.33 169v1.2M530.95 271.45v-2.4M530.95 169v2.4M536.57 271.45v-1.2M536.57 169v1.2M298.5 170.8h1.2M538.5 170.8h-1.2M298.5 174.26h1.2M538.5 174.26h-1.2M298.5 177.72h1.2M538.5 177.72h-1.2M298.5 181.18h1.2M538.5 181.18h-1.2M298.5 184.64h1.2M538.5 184.64h-1.2M298.5 188.1h1.2M538.5 188.1h-1.2M298.5 191.56h1.2M538.5 191.56h-1.2M298.5 195.02h1.2M538.5 195.02h-1.2M298.5 198.48h1.2M538.5 198.48h-1.2M298.5 201.94h1.2M538.5 201.94h-1.2M298.5 205.4h1.2M538.5 205.4h-1.2M298.5 208.86h1.2M538.5 208.86h-1.2M298.5 212.32h1.2M538.5 212.32h-1.2M298.5 215.79h1.2M538.5 215.79h-1.2M298.5 219.25h1.2M538.5 219.25h-1.2M298.5 222.71h1.2M538.5 222.71h-1.2M298.5 226.17h1.2M538.5 226.17h-1.2M298.5 229.63h1.2M538.5 229.63h-1.2M298.5 233.09h1.2M538.5 233.09h-1.2M298.5 236.55h1.2M538.5 236.55h-1.2M298.5 240.01h1.2M538.5 240.01h-1.2M298.5 243.47h1.2M538.5 243.47h-1.2M298.5 246.93h1.2M538.5 246.93h-1.2M298.5 250.39h1.2M538.5 250.39h-1.2M298.5 253.85h1.2M538.5 253.85h-1.2M298.5 257.31h1.2M538.5 257.31h-1.2M298.5 260.77h1.2M538.5 260.77h-1.2M298.5 264.23h1.2M538.5 264.23h-1.2M298.5 267.69h1.2M538.5 267.69h-1.2M298.5 271.15h1.2M538.5 271.15h-1.2M298.5 177.72h2.4M538.5 177.72h-2.4M298.5 191.56h2.4M538.5 191.56h-2.4M298.5 205.4h2.4M538.5 205.4h-2.4M298.5 219.25h2.4M538.5 219.25h-2.4M298.5 233.09h2.4M538.5 233.09h-2.4M298.5 246.93h2.4M538.5 246.93h-2.4M298.5 260.77h2.4M538.5 260.77h-2.4" fill="none" stroke="#444" stroke-width="0.7"/>
<rect x="298.5" y="169" width="240" height="102.45" fill="none" stroke="#505050" stroke-width="0.75"/>
<g font-family='"Liberation Sans", Arial, Helvetica, sans-serif' font-size="3.5" font-weight="bold" letter-spacing="0.18" fill="#333">
<g text-anchor="middle">
<text x="305.65" y="276.85">−40</text>
<text x="333.75" y="276.85">−30</text>
<text x="361.85" y="276.85">−20</text>
<text x="389.95" y="276.85">−10</text>
<text x="418.05" y="276.85">0</text>
<text x="446.15" y="276.85">10</text>
<text x="474.25" y="276.85">20</text>
<text x="502.35" y="276.85">30</text>
<text x="530.45" y="276.85">40</text>
</g><g text-anchor="end">
<text x="297" y="179.47">2000</text>
<text x="297" y="193.31">0</text>
<text x="297" y="207.15">−2000</text>
<text x="297" y="221">−4000</text>
<text x="297" y="234.84">−6000</text>
<text x="297" y="248.68">−8000</text>
<text x="297" y="262.52">−10000</text>
</g></g>
<path d="M298.5 190.95 299.68 192.92 300.87 194.87 302.05 196.79 303.23 198.69 304.42 200.56 305.6 202.41 306.78 204.23 307.97 206.03 309.15 207.81 310.34 209.56 311.52 211.29 312.7 212.99 313.89 214.67 315.07 216.32 316.25 217.95 317.44 219.56 318.62 221.14 319.8 222.7 320.99 224.23 322.17 225.74 323.35 227.22 324.54 228.68 325.72 230.12 326.91 231.53 328.09 232.91 329.27 234.28 330.46 235.62 331.64 236.93 332.82 238.22 334.01 239.48 335.19 240.73 336.37 241.94 337.56 243.14 338.74 244.3 339.92 245.45 341.11 246.57 342.29 247.66 343.47 248.73 344.66 249.78 345.84 250.8 347.03 251.8 348.21 252.78 349.39 253.73 350.58 254.65 351.76 255.55 352.94 256.43 354.13 257.28 355.31 258.11 356.49 258.91 357.68 259.69 358.86 260.45 360.04 261.18 361.23 261.89 362.41 262.57 363.59 263.23 364.78 263.86 365.96 264.47 367.15 265.06 368.33 265.62 369.51 266.16 370.7 266.67 371.88 267.16 373.06 267.62 374.25 268.06 375.43 268.48 376.61 268.87 377.8 269.23 378.98 269.58 380.16 269.9 381.35 270.19 382.53 270.46 383.72 270.7 384.9 270.93 386.08 271.12 387.27 271.3 388.45 271.4 389.63 271.4 390.82 271.4 392 271.4 447 271.4 448.03 271.4 449.06 271.4 450.08 271.4 451.11 271.4 452.14 271.2 453.17 270.76 454.2 270.33 455.22 269.91 456.25 269.49 457.28 269.08 458.31 268.67 459.34 268.27 460.37 267.86 461.39 267.46 462.42 267.06 463.45 266.65 464.48 266.25 465.51 265.84 466.53 265.43 467.56 265.01 468.59 264.59 469.62 264.16 470.65 263.72 471.67 263.27 472.7 262.81 473.73 262.35 474.76 261.87 475.79 261.38 476.81 260.87 477.84 260.35 478.87 259.81 479.9 259.26 480.93 258.69 481.96 258.1 482.98 257.49 484.01 256.87 485.04 256.22 486.07 255.54 487.1 254.85 488.12 254.13 489.15 253.38 490.18 252.61 491.21 251.81 492.24 250.98 493.26 250.13 494.29 249.24 495.32 248.32 496.35 247.37 497.38 246.39 498.4 245.37 499.43 244.32 500.46 243.23 501.49 242.1 502.52 240.94 503.54 239.74 504.57 238.49 505.6 237.21 506.63 235.88 507.66 234.52 508.69 233.1 509.71 231.65 510.74 230.14 511.77 228.59 512.8 227 513.83 225.35 514.85 223.65 515.88 221.91 516.91 220.11 517.94 218.26 518.97 216.35 519.99 214.39 521.02 212.38 522.05 210.31 523.08 208.18 524.11 205.99 525.13 203.75 526.16 201.44 527.19 199.07 528.22 196.64 529.25 194.14 530.28 191.59 531.3 188.96 532.33 186.27 533.36 183.52 534.39 180.69 535.42 177.8 536.44 174.83 537.47 171.79 538.5 169" fill="none" stroke="#7A2E96" stroke-width="1.05" stroke-dasharray="2.7 2.9" />
<rect x="469.6" y="172.95" width="66.3" height="5.8" fill="#fff" stroke="#4a4a4a" stroke-width="0.5"/>
<path d="M471 175.85H481" stroke="#7A2E96" stroke-width="1.0" stroke-dasharray="3.6 1.8" fill="none"/>
<text x="482.9" y="177.4" font-family='"Liberation Sans", Arial, Helvetica, sans-serif' font-size="4.4" font-weight="bold" fill="#222" stroke="#222" stroke-width="0.12">3D phase model method</text>
<text x="315.9" y="166.5" font-family='"Liberation Sans", Arial, Helvetica, sans-serif' font-size="9" font-weight="bold" fill="#111" stroke="#111" stroke-width="0.35">Diffraction field (</text>
<text transform="translate(388 166.5) scale(1.25 1)" font-family='"Liberation Serif", "Times New Roman", serif' font-style="italic" font-size="9.4" fill="#111" stroke="#111" stroke-width="0.2">α</text>
<text x="394.5" y="166.5" font-family='"Liberation Sans", Arial, Helvetica, sans-serif' font-size="9" font-weight="bold" fill="#111" stroke="#111" stroke-width="0.35">=20.801<tspan font-weight="normal" font-size="9" stroke-width="0.1">°</tspan>, Group B + Group R)</text>
<text transform="translate(281.6 220) rotate(-90)" text-anchor="middle" font-family='"Liberation Sans", Arial, Helvetica, sans-serif' font-size="9" font-weight="bold" fill="#111" stroke="#111" stroke-width="0.35">Phase (rad)</text>
<text x="401.7" y="287.8" font-family='"Liberation Sans", Arial, Helvetica, sans-serif' font-size="9" font-weight="bold" fill="#111" stroke="#111" stroke-width="0.35">x<tspan font-size="5.8" dx="0.1" dy="2.8">1</tspan><tspan font-size="7.5" dx="-2.4" dy="-6.0" stroke="none">′</tspan><tspan dx="1.0" dy="3.2"> (mm)</tspan></text>
<text transform="translate(409.3 322.9) scale(1.06 1.1)" text-anchor="middle" font-family='"Liberation Serif", "Times New Roman", serif' font-size="11" fill="#111" stroke="#111" stroke-width="0.3">(d)</text>
</svg>
</body></html>
